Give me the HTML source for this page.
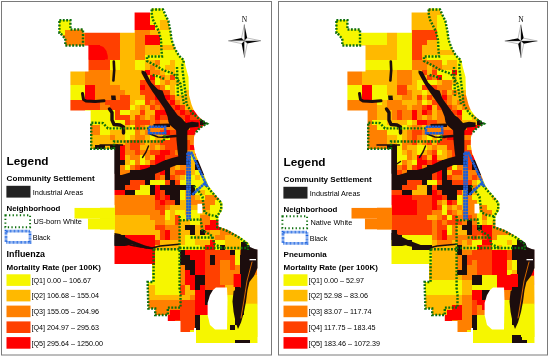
<!DOCTYPE html>
<html><head><meta charset="utf-8"><title>Influenza and Pneumonia Mortality Maps</title>
<style>html,body{margin:0;padding:0;background:#fff;width:550px;height:356px;overflow:hidden}svg{display:block}</style>
</head><body>
<svg width="550" height="356" viewBox="0 0 550 356">
<rect x="0" y="0" width="550" height="356" fill="#fff"/>
<rect x="1.5" y="1.5" width="270" height="353.5" fill="none" stroke="#7a7a7a" stroke-width="1"/>
<rect x="278.5" y="1.5" width="269" height="353.5" fill="none" stroke="#7a7a7a" stroke-width="1"/>
<defs><filter id="bl" x="-5%" y="-5%" width="110%" height="110%"><feGaussianBlur stdDeviation="0.4"/></filter></defs>
<g filter="url(#bl)">
<defs><clipPath id="cl"><polygon points="59.0,20.0 70.5,20.0 70.5,29.5 83.0,29.5 83.0,32.8 134.6,32.8 134.6,12.6 150.6,12.6 151.7,8.6 162.0,8.6 165.3,14.7 168.4,21.0 170.5,31.6 172.3,40.0 175.0,48.4 179.0,55.8 184.5,60.0 185.5,66.0 188.5,77.0 189.0,95.0 191.5,104.5 193.7,110.0 198.8,117.0 207.0,123.6 196.0,131.0 194.0,137.0 193.8,145.0 195.0,152.7 208.2,185.0 212.5,191.5 222.4,202.7 222.4,209.8 218.4,216.6 218.4,226.4 228.5,230.2 240.3,237.0 248.5,243.0 250.0,247.0 257.0,250.0 257.5,343.0 196.0,343.0 196.0,328.0 194.0,328.0 194.0,332.0 180.5,332.0 180.5,321.0 167.8,321.0 167.8,315.0 155.2,315.0 155.2,308.5 148.4,308.5 148.4,295.0 147.6,282.0 152.0,282.0 152.0,264.0 114.5,264.0 114.5,229.6 87.8,229.6 87.8,218.7 74.3,218.7 74.3,207.7 114.5,207.7 114.5,149.0 90.6,149.0 90.6,110.6 70.4,110.6 70.4,71.4 88.5,71.4 88.5,45.5 65.3,45.5 65.3,38.8 60.2,32.9 59.0,32.9"/></clipPath><clipPath id="cr"><polygon points="59.0,20.0 70.5,20.0 70.5,29.5 83.0,29.5 83.0,32.8 134.6,32.8 134.6,12.6 150.6,12.6 151.7,8.6 162.0,8.6 165.3,14.7 168.4,21.0 170.5,31.6 172.3,40.0 175.0,48.4 179.0,55.8 184.5,60.0 185.5,66.0 188.5,77.0 189.0,95.0 191.5,104.5 193.7,110.0 198.8,117.0 207.0,123.6 196.0,131.0 194.0,137.0 193.8,145.0 195.0,152.7 208.2,185.0 212.5,191.5 222.4,202.7 222.4,209.8 218.4,216.6 218.4,226.4 228.5,230.2 240.3,237.0 248.5,243.0 250.0,247.0 257.0,250.0 257.5,343.0 196.0,343.0 196.0,328.0 194.0,328.0 194.0,332.0 180.5,332.0 180.5,321.0 167.8,321.0 167.8,315.0 155.2,315.0 155.2,308.5 148.4,308.5 148.4,295.0 147.6,282.0 152.0,282.0 152.0,264.0 114.5,264.0 114.5,229.6 87.8,229.6 87.8,218.7 74.3,218.7 74.3,207.7 114.5,207.7 114.5,149.0 90.6,149.0 90.6,110.6 70.4,110.6 70.4,71.4 88.5,71.4 88.5,45.5 65.3,45.5 65.3,38.8 60.2,32.9 59.0,32.9" transform="translate(277,0)"/></clipPath></defs>
<g clip-path="url(#cl)">
<g shape-rendering="crispEdges">
<rect x="135" y="0" width="15" height="5" fill="#ff0000"/>
<rect x="150" y="0" width="20" height="5" fill="#f6f600"/>
<rect x="130" y="5" width="20" height="5" fill="#ff0000"/>
<rect x="150" y="5" width="25" height="5" fill="#f6f600"/>
<rect x="60" y="10" width="10" height="5" fill="#f6f600"/>
<rect x="125" y="10" width="25" height="5" fill="#ff0000"/>
<rect x="150" y="10" width="25" height="5" fill="#f6f600"/>
<rect x="55" y="15" width="20" height="5" fill="#f6f600"/>
<rect x="125" y="15" width="25" height="5" fill="#ff0000"/>
<rect x="150" y="15" width="30" height="5" fill="#f6f600"/>
<rect x="50" y="20" width="30" height="5" fill="#f6f600"/>
<rect x="80" y="20" width="5" height="5" fill="#ff8000"/>
<rect x="85" y="20" width="35" height="5" fill="#ff4000"/>
<rect x="120" y="20" width="5" height="5" fill="#ffb900"/>
<rect x="125" y="20" width="25" height="5" fill="#ff0000"/>
<rect x="150" y="20" width="10" height="5" fill="#f6f600"/>
<rect x="160" y="20" width="20" height="5" fill="#ffb900"/>
<rect x="50" y="25" width="25" height="5" fill="#f6f600"/>
<rect x="75" y="25" width="10" height="5" fill="#ff8000"/>
<rect x="85" y="25" width="35" height="5" fill="#ff4000"/>
<rect x="120" y="25" width="10" height="5" fill="#ffb900"/>
<rect x="130" y="25" width="25" height="5" fill="#ff0000"/>
<rect x="155" y="25" width="5" height="5" fill="#f6f600"/>
<rect x="160" y="25" width="20" height="5" fill="#ffb900"/>
<rect x="50" y="30" width="15" height="5" fill="#f6f600"/>
<rect x="65" y="30" width="20" height="5" fill="#ff8000"/>
<rect x="85" y="30" width="35" height="5" fill="#ff4000"/>
<rect x="120" y="30" width="15" height="5" fill="#ffb900"/>
<rect x="135" y="30" width="15" height="5" fill="#ff8000"/>
<rect x="150" y="30" width="10" height="5" fill="#ffb900"/>
<rect x="160" y="30" width="20" height="5" fill="#f6f600"/>
<rect x="55" y="35" width="30" height="5" fill="#ff8000"/>
<rect x="85" y="35" width="35" height="5" fill="#ff4000"/>
<rect x="120" y="35" width="15" height="5" fill="#ffb900"/>
<rect x="135" y="35" width="10" height="5" fill="#ff8000"/>
<rect x="145" y="35" width="15" height="5" fill="#ff0000"/>
<rect x="160" y="35" width="20" height="5" fill="#f6f600"/>
<rect x="55" y="40" width="30" height="5" fill="#ff8000"/>
<rect x="85" y="40" width="35" height="5" fill="#ff4000"/>
<rect x="120" y="40" width="15" height="5" fill="#ffb900"/>
<rect x="135" y="40" width="10" height="5" fill="#ff8000"/>
<rect x="145" y="40" width="15" height="5" fill="#ff0000"/>
<rect x="160" y="40" width="25" height="5" fill="#f6f600"/>
<rect x="60" y="45" width="25" height="5" fill="#ff8000"/>
<rect x="85" y="45" width="15" height="5" fill="#ff0000"/>
<rect x="100" y="45" width="20" height="5" fill="#ff4000"/>
<rect x="120" y="45" width="15" height="5" fill="#ffb900"/>
<rect x="135" y="45" width="10" height="5" fill="#ff8000"/>
<rect x="145" y="45" width="40" height="5" fill="#ffb900"/>
<rect x="65" y="50" width="15" height="5" fill="#ff8000"/>
<rect x="80" y="50" width="25" height="5" fill="#ff0000"/>
<rect x="105" y="50" width="15" height="5" fill="#ff4000"/>
<rect x="120" y="50" width="15" height="5" fill="#ffb900"/>
<rect x="135" y="50" width="10" height="5" fill="#ff8000"/>
<rect x="145" y="50" width="15" height="5" fill="#ffb900"/>
<rect x="160" y="50" width="25" height="5" fill="#f6f600"/>
<rect x="80" y="55" width="25" height="5" fill="#ff0000"/>
<rect x="105" y="55" width="15" height="5" fill="#ff4000"/>
<rect x="120" y="55" width="15" height="5" fill="#ffb900"/>
<rect x="135" y="55" width="10" height="5" fill="#ff8000"/>
<rect x="145" y="55" width="45" height="5" fill="#f6f600"/>
<rect x="70" y="60" width="10" height="5" fill="#ffb900"/>
<rect x="80" y="60" width="30" height="5" fill="#ff4000"/>
<rect x="110" y="60" width="10" height="5" fill="#f6f600"/>
<rect x="120" y="60" width="15" height="5" fill="#ffb900"/>
<rect x="135" y="60" width="10" height="5" fill="#f6f600"/>
<rect x="145" y="60" width="10" height="5" fill="#ffb900"/>
<rect x="155" y="60" width="5" height="5" fill="#ff8000"/>
<rect x="160" y="60" width="10" height="5" fill="#f6f600"/>
<rect x="170" y="60" width="5" height="5" fill="#ffb900"/>
<rect x="175" y="60" width="20" height="5" fill="#f6f600"/>
<rect x="65" y="65" width="20" height="5" fill="#ffb900"/>
<rect x="85" y="65" width="25" height="5" fill="#ff4000"/>
<rect x="110" y="65" width="10" height="5" fill="#f6f600"/>
<rect x="120" y="65" width="15" height="5" fill="#ffb900"/>
<rect x="135" y="65" width="10" height="5" fill="#f6f600"/>
<rect x="145" y="65" width="5" height="5" fill="#ffb900"/>
<rect x="150" y="65" width="5" height="5" fill="#ff8000"/>
<rect x="155" y="65" width="5" height="5" fill="#ffb900"/>
<rect x="160" y="65" width="5" height="5" fill="#f6f600"/>
<rect x="165" y="65" width="10" height="5" fill="#ffb900"/>
<rect x="175" y="65" width="20" height="5" fill="#f6f600"/>
<rect x="60" y="70" width="25" height="5" fill="#ffb900"/>
<rect x="85" y="70" width="25" height="5" fill="#ff8000"/>
<rect x="110" y="70" width="35" height="5" fill="#ffb900"/>
<rect x="145" y="70" width="5" height="5" fill="#ff0000"/>
<rect x="150" y="70" width="10" height="5" fill="#ff8000"/>
<rect x="160" y="70" width="5" height="5" fill="#ffb900"/>
<rect x="165" y="70" width="5" height="5" fill="#f6f600"/>
<rect x="170" y="70" width="5" height="5" fill="#ffb900"/>
<rect x="175" y="70" width="25" height="5" fill="#f6f600"/>
<rect x="60" y="75" width="25" height="5" fill="#ffb900"/>
<rect x="85" y="75" width="25" height="5" fill="#ff8000"/>
<rect x="110" y="75" width="40" height="5" fill="#ffb900"/>
<rect x="150" y="75" width="5" height="5" fill="#ff0000"/>
<rect x="155" y="75" width="5" height="5" fill="#f6f600"/>
<rect x="160" y="75" width="5" height="5" fill="#ff8000"/>
<rect x="165" y="75" width="5" height="5" fill="#ffb900"/>
<rect x="170" y="75" width="5" height="5" fill="#ff4000"/>
<rect x="175" y="75" width="20" height="5" fill="#f6f600"/>
<rect x="60" y="80" width="25" height="5" fill="#ffb900"/>
<rect x="85" y="80" width="25" height="5" fill="#ff8000"/>
<rect x="110" y="80" width="30" height="5" fill="#ffb900"/>
<rect x="140" y="80" width="15" height="5" fill="#ff4000"/>
<rect x="155" y="80" width="5" height="5" fill="#f6f600"/>
<rect x="160" y="80" width="5" height="5" fill="#ffb900"/>
<rect x="165" y="80" width="5" height="5" fill="#ff8000"/>
<rect x="170" y="80" width="10" height="5" fill="#ffb900"/>
<rect x="180" y="80" width="20" height="5" fill="#f6f600"/>
<rect x="60" y="85" width="25" height="5" fill="#f6f600"/>
<rect x="85" y="85" width="10" height="5" fill="#ff0000"/>
<rect x="95" y="85" width="25" height="5" fill="#ff8000"/>
<rect x="120" y="85" width="20" height="5" fill="#ffb900"/>
<rect x="140" y="85" width="5" height="5" fill="#ff0000"/>
<rect x="145" y="85" width="15" height="5" fill="#ff4000"/>
<rect x="160" y="85" width="5" height="5" fill="#ff8000"/>
<rect x="165" y="85" width="5" height="5" fill="#f6f600"/>
<rect x="170" y="85" width="5" height="5" fill="#ffb900"/>
<rect x="175" y="85" width="25" height="5" fill="#f6f600"/>
<rect x="60" y="90" width="25" height="5" fill="#f6f600"/>
<rect x="85" y="90" width="10" height="5" fill="#ff0000"/>
<rect x="95" y="90" width="30" height="5" fill="#ff8000"/>
<rect x="125" y="90" width="15" height="5" fill="#ffb900"/>
<rect x="140" y="90" width="30" height="5" fill="#ff4000"/>
<rect x="170" y="90" width="5" height="5" fill="#ffb900"/>
<rect x="175" y="90" width="10" height="5" fill="#f6f600"/>
<rect x="185" y="90" width="15" height="5" fill="#ffb900"/>
<rect x="60" y="95" width="25" height="5" fill="#f6f600"/>
<rect x="85" y="95" width="10" height="5" fill="#ff0000"/>
<rect x="95" y="95" width="25" height="5" fill="#ff8000"/>
<rect x="120" y="95" width="10" height="5" fill="#ff4000"/>
<rect x="130" y="95" width="15" height="5" fill="#ffb900"/>
<rect x="145" y="95" width="10" height="5" fill="#ff4000"/>
<rect x="155" y="95" width="15" height="5" fill="#ff0000"/>
<rect x="170" y="95" width="5" height="5" fill="#ff4000"/>
<rect x="175" y="95" width="30" height="5" fill="#ffb900"/>
<rect x="60" y="100" width="40" height="5" fill="#ff4000"/>
<rect x="100" y="100" width="5" height="5" fill="#ff8000"/>
<rect x="105" y="100" width="25" height="5" fill="#ff4000"/>
<rect x="130" y="100" width="5" height="5" fill="#ffb900"/>
<rect x="135" y="100" width="10" height="5" fill="#f6f600"/>
<rect x="145" y="100" width="5" height="5" fill="#ff4000"/>
<rect x="150" y="100" width="5" height="5" fill="#ff8000"/>
<rect x="155" y="100" width="15" height="5" fill="#ff4000"/>
<rect x="170" y="100" width="5" height="5" fill="#ff0000"/>
<rect x="175" y="100" width="5" height="5" fill="#ff8000"/>
<rect x="180" y="100" width="25" height="5" fill="#ffb900"/>
<rect x="60" y="105" width="40" height="5" fill="#ff4000"/>
<rect x="100" y="105" width="10" height="5" fill="#ff8000"/>
<rect x="110" y="105" width="20" height="5" fill="#ff4000"/>
<rect x="130" y="105" width="5" height="5" fill="#f6f600"/>
<rect x="135" y="105" width="5" height="5" fill="#ffb900"/>
<rect x="140" y="105" width="5" height="5" fill="#ff8000"/>
<rect x="145" y="105" width="5" height="5" fill="#ffb900"/>
<rect x="150" y="105" width="5" height="5" fill="#ff4000"/>
<rect x="155" y="105" width="5" height="5" fill="#ff8000"/>
<rect x="160" y="105" width="15" height="5" fill="#ff4000"/>
<rect x="175" y="105" width="5" height="5" fill="#ff0000"/>
<rect x="180" y="105" width="5" height="5" fill="#ff4000"/>
<rect x="185" y="105" width="15" height="5" fill="#ffb900"/>
<rect x="65" y="110" width="20" height="5" fill="#ff4000"/>
<rect x="85" y="110" width="30" height="5" fill="#f6f600"/>
<rect x="115" y="110" width="5" height="5" fill="#ff4000"/>
<rect x="120" y="110" width="10" height="5" fill="#f6f600"/>
<rect x="130" y="110" width="10" height="5" fill="#ffb900"/>
<rect x="140" y="110" width="5" height="5" fill="#ff4000"/>
<rect x="145" y="110" width="10" height="5" fill="#ffb900"/>
<rect x="155" y="110" width="20" height="5" fill="#ff0000"/>
<rect x="175" y="110" width="5" height="5" fill="#ff4000"/>
<rect x="180" y="110" width="5" height="5" fill="#ff0000"/>
<rect x="185" y="110" width="5" height="5" fill="#ff4000"/>
<rect x="190" y="110" width="15" height="5" fill="#ff0000"/>
<rect x="70" y="115" width="10" height="5" fill="#ff4000"/>
<rect x="80" y="115" width="35" height="5" fill="#f6f600"/>
<rect x="115" y="115" width="15" height="5" fill="#ff4000"/>
<rect x="130" y="115" width="5" height="5" fill="#ffb900"/>
<rect x="135" y="115" width="5" height="5" fill="#ff4000"/>
<rect x="140" y="115" width="5" height="5" fill="#ff8000"/>
<rect x="145" y="115" width="5" height="5" fill="#ffb900"/>
<rect x="150" y="115" width="5" height="5" fill="#ff8000"/>
<rect x="155" y="115" width="5" height="5" fill="#ff0000"/>
<rect x="160" y="115" width="25" height="5" fill="#ff4000"/>
<rect x="185" y="115" width="5" height="5" fill="#ff0000"/>
<rect x="190" y="115" width="20" height="5" fill="#ff4000"/>
<rect x="80" y="120" width="45" height="5" fill="#f6f600"/>
<rect x="125" y="120" width="5" height="5" fill="#ff4000"/>
<rect x="130" y="120" width="5" height="5" fill="#ff8000"/>
<rect x="135" y="120" width="15" height="5" fill="#ff4000"/>
<rect x="150" y="120" width="5" height="5" fill="#ff8000"/>
<rect x="155" y="120" width="5" height="5" fill="#ff4000"/>
<rect x="160" y="120" width="25" height="5" fill="#ff8000"/>
<rect x="185" y="120" width="15" height="5" fill="#ff0000"/>
<rect x="200" y="120" width="15" height="5" fill="#1e0a0a"/>
<rect x="80" y="125" width="20" height="5" fill="#ff8000"/>
<rect x="100" y="125" width="25" height="5" fill="#f6f600"/>
<rect x="125" y="125" width="5" height="5" fill="#ffb900"/>
<rect x="130" y="125" width="5" height="5" fill="#f6f600"/>
<rect x="135" y="125" width="5" height="5" fill="#ff4000"/>
<rect x="140" y="125" width="5" height="5" fill="#ff8000"/>
<rect x="145" y="125" width="5" height="5" fill="#ffb900"/>
<rect x="150" y="125" width="40" height="5" fill="#ff8000"/>
<rect x="190" y="125" width="25" height="5" fill="#ff0000"/>
<rect x="80" y="130" width="20" height="5" fill="#ff8000"/>
<rect x="100" y="130" width="10" height="5" fill="#f6f600"/>
<rect x="110" y="130" width="15" height="5" fill="#ffb900"/>
<rect x="125" y="130" width="10" height="5" fill="#f6f600"/>
<rect x="135" y="130" width="5" height="5" fill="#ff8000"/>
<rect x="140" y="130" width="5" height="5" fill="#ffb900"/>
<rect x="145" y="130" width="15" height="5" fill="#ff8000"/>
<rect x="160" y="130" width="5" height="5" fill="#ff4000"/>
<rect x="165" y="130" width="5" height="5" fill="#ff0000"/>
<rect x="170" y="130" width="15" height="5" fill="#ff4000"/>
<rect x="185" y="130" width="25" height="5" fill="#ff0000"/>
<rect x="80" y="135" width="30" height="5" fill="#ffb900"/>
<rect x="110" y="135" width="5" height="5" fill="#ff8000"/>
<rect x="115" y="135" width="10" height="5" fill="#ffb900"/>
<rect x="125" y="135" width="5" height="5" fill="#f6f600"/>
<rect x="130" y="135" width="5" height="5" fill="#ffb900"/>
<rect x="135" y="135" width="10" height="5" fill="#ff8000"/>
<rect x="145" y="135" width="5" height="5" fill="#ffb900"/>
<rect x="150" y="135" width="5" height="5" fill="#f6f600"/>
<rect x="155" y="135" width="10" height="5" fill="#ffb900"/>
<rect x="165" y="135" width="5" height="5" fill="#f6f600"/>
<rect x="170" y="135" width="15" height="5" fill="#ff4000"/>
<rect x="185" y="135" width="20" height="5" fill="#ff8000"/>
<rect x="80" y="140" width="45" height="5" fill="#ffb900"/>
<rect x="125" y="140" width="5" height="5" fill="#ff8000"/>
<rect x="130" y="140" width="10" height="5" fill="#ff4000"/>
<rect x="140" y="140" width="5" height="5" fill="#ff8000"/>
<rect x="145" y="140" width="5" height="5" fill="#ffb900"/>
<rect x="150" y="140" width="10" height="5" fill="#ff8000"/>
<rect x="160" y="140" width="30" height="5" fill="#ff4000"/>
<rect x="190" y="140" width="20" height="5" fill="#ff8000"/>
<rect x="80" y="145" width="15" height="5" fill="#ffb900"/>
<rect x="95" y="145" width="10" height="5" fill="#1e0a0a"/>
<rect x="105" y="145" width="5" height="5" fill="#ffb900"/>
<rect x="110" y="145" width="10" height="5" fill="#1e0a0a"/>
<rect x="120" y="145" width="5" height="5" fill="#ff0000"/>
<rect x="125" y="145" width="5" height="5" fill="#ff8000"/>
<rect x="130" y="145" width="10" height="5" fill="#ff4000"/>
<rect x="140" y="145" width="10" height="5" fill="#ffb900"/>
<rect x="150" y="145" width="5" height="5" fill="#ff8000"/>
<rect x="155" y="145" width="5" height="5" fill="#ffb900"/>
<rect x="160" y="145" width="5" height="5" fill="#ff8000"/>
<rect x="165" y="145" width="25" height="5" fill="#ff4000"/>
<rect x="190" y="145" width="20" height="5" fill="#ff0000"/>
<rect x="85" y="150" width="10" height="5" fill="#ffb900"/>
<rect x="95" y="150" width="25" height="5" fill="#1e0a0a"/>
<rect x="120" y="150" width="5" height="5" fill="#ff0000"/>
<rect x="125" y="150" width="10" height="5" fill="#ff8000"/>
<rect x="135" y="150" width="5" height="5" fill="#ff4000"/>
<rect x="140" y="150" width="10" height="5" fill="#ff8000"/>
<rect x="150" y="150" width="10" height="5" fill="#ff4000"/>
<rect x="160" y="150" width="10" height="5" fill="#ff0000"/>
<rect x="170" y="150" width="5" height="5" fill="#ff4000"/>
<rect x="175" y="150" width="15" height="5" fill="#ff8000"/>
<rect x="190" y="150" width="5" height="5" fill="#ffb900"/>
<rect x="195" y="150" width="15" height="5" fill="#ff0000"/>
<rect x="90" y="155" width="5" height="5" fill="#ffb900"/>
<rect x="95" y="155" width="5" height="5" fill="#1e0a0a"/>
<rect x="105" y="155" width="15" height="5" fill="#1e0a0a"/>
<rect x="120" y="155" width="5" height="5" fill="#ff0000"/>
<rect x="125" y="155" width="5" height="5" fill="#ffb900"/>
<rect x="130" y="155" width="10" height="5" fill="#ff8000"/>
<rect x="140" y="155" width="5" height="5" fill="#f6f600"/>
<rect x="145" y="155" width="5" height="5" fill="#ff8000"/>
<rect x="150" y="155" width="5" height="5" fill="#ffb900"/>
<rect x="155" y="155" width="10" height="5" fill="#ff0000"/>
<rect x="165" y="155" width="25" height="5" fill="#ff4000"/>
<rect x="190" y="155" width="5" height="5" fill="#f6f600"/>
<rect x="195" y="155" width="15" height="5" fill="#ffb900"/>
<rect x="105" y="160" width="20" height="5" fill="#1e0a0a"/>
<rect x="125" y="160" width="5" height="5" fill="#ffb900"/>
<rect x="130" y="160" width="5" height="5" fill="#f6f600"/>
<rect x="135" y="160" width="5" height="5" fill="#ff8000"/>
<rect x="140" y="160" width="5" height="5" fill="#f6f600"/>
<rect x="145" y="160" width="5" height="5" fill="#ffb900"/>
<rect x="150" y="160" width="5" height="5" fill="#ff4000"/>
<rect x="155" y="160" width="10" height="5" fill="#ff0000"/>
<rect x="165" y="160" width="25" height="5" fill="#1e0a0a"/>
<rect x="190" y="160" width="5" height="5" fill="#ffb900"/>
<rect x="195" y="160" width="15" height="5" fill="#1e0a0a"/>
<rect x="105" y="165" width="15" height="5" fill="#1e0a0a"/>
<rect x="120" y="165" width="5" height="5" fill="#ff8000"/>
<rect x="125" y="165" width="5" height="5" fill="#f6f600"/>
<rect x="130" y="165" width="5" height="5" fill="#ff8000"/>
<rect x="135" y="165" width="5" height="5" fill="#ff4000"/>
<rect x="140" y="165" width="10" height="5" fill="#ff0000"/>
<rect x="150" y="165" width="20" height="5" fill="#1e0a0a"/>
<rect x="170" y="165" width="5" height="5" fill="#ff8000"/>
<rect x="175" y="165" width="5" height="5" fill="#ffb900"/>
<rect x="180" y="165" width="10" height="5" fill="#ff8000"/>
<rect x="190" y="165" width="5" height="5" fill="#ffb900"/>
<rect x="195" y="165" width="20" height="5" fill="#1e0a0a"/>
<rect x="105" y="170" width="15" height="5" fill="#1e0a0a"/>
<rect x="120" y="170" width="10" height="5" fill="#ff8000"/>
<rect x="130" y="170" width="25" height="5" fill="#1e0a0a"/>
<rect x="155" y="170" width="5" height="5" fill="#ff4000"/>
<rect x="160" y="170" width="5" height="5" fill="#ff0000"/>
<rect x="165" y="170" width="5" height="5" fill="#1e0a0a"/>
<rect x="170" y="170" width="5" height="5" fill="#ff8000"/>
<rect x="175" y="170" width="10" height="5" fill="#ff4000"/>
<rect x="185" y="170" width="5" height="5" fill="#ff8000"/>
<rect x="190" y="170" width="5" height="5" fill="#ffb900"/>
<rect x="195" y="170" width="5" height="5" fill="#f6f600"/>
<rect x="200" y="170" width="15" height="5" fill="#1e0a0a"/>
<rect x="105" y="175" width="50" height="5" fill="#1e0a0a"/>
<rect x="155" y="175" width="5" height="5" fill="#ff4000"/>
<rect x="160" y="175" width="5" height="5" fill="#ff8000"/>
<rect x="165" y="175" width="5" height="5" fill="#1e0a0a"/>
<rect x="170" y="175" width="5" height="5" fill="#ff4000"/>
<rect x="175" y="175" width="5" height="5" fill="#ff8000"/>
<rect x="180" y="175" width="5" height="5" fill="#ffb900"/>
<rect x="185" y="175" width="10" height="5" fill="#f6f600"/>
<rect x="195" y="175" width="5" height="5" fill="#ffb900"/>
<rect x="200" y="175" width="15" height="5" fill="#f6f600"/>
<rect x="105" y="180" width="25" height="5" fill="#1e0a0a"/>
<rect x="130" y="180" width="15" height="5" fill="#ff4000"/>
<rect x="145" y="180" width="5" height="5" fill="#1e0a0a"/>
<rect x="150" y="180" width="15" height="5" fill="#f6f600"/>
<rect x="165" y="180" width="5" height="5" fill="#ff4000"/>
<rect x="170" y="180" width="5" height="5" fill="#1e0a0a"/>
<rect x="175" y="180" width="5" height="5" fill="#ff4000"/>
<rect x="180" y="180" width="35" height="5" fill="#f6f600"/>
<rect x="105" y="185" width="20" height="5" fill="#1e0a0a"/>
<rect x="125" y="185" width="15" height="5" fill="#ff4000"/>
<rect x="140" y="185" width="10" height="5" fill="#f6f600"/>
<rect x="150" y="185" width="5" height="5" fill="#1e0a0a"/>
<rect x="155" y="185" width="5" height="5" fill="#ff0000"/>
<rect x="160" y="185" width="35" height="5" fill="#1e0a0a"/>
<rect x="195" y="185" width="25" height="5" fill="#f6f600"/>
<rect x="105" y="190" width="20" height="5" fill="#ff0000"/>
<rect x="125" y="190" width="10" height="5" fill="#1e0a0a"/>
<rect x="135" y="190" width="15" height="5" fill="#f6f600"/>
<rect x="150" y="190" width="5" height="5" fill="#1e0a0a"/>
<rect x="155" y="190" width="5" height="5" fill="#ff0000"/>
<rect x="160" y="190" width="5" height="5" fill="#ff4000"/>
<rect x="165" y="190" width="15" height="5" fill="#1e0a0a"/>
<rect x="180" y="190" width="5" height="5" fill="#f6f600"/>
<rect x="185" y="190" width="5" height="5" fill="#ffb900"/>
<rect x="190" y="190" width="5" height="5" fill="#1e0a0a"/>
<rect x="195" y="190" width="5" height="5" fill="#f6f600"/>
<rect x="200" y="190" width="5" height="5" fill="#ffb900"/>
<rect x="205" y="190" width="15" height="5" fill="#f6f600"/>
<rect x="100" y="195" width="5" height="5" fill="#f6f600"/>
<rect x="105" y="195" width="50" height="5" fill="#ff8000"/>
<rect x="155" y="195" width="5" height="5" fill="#ff0000"/>
<rect x="160" y="195" width="5" height="5" fill="#ff4000"/>
<rect x="165" y="195" width="5" height="5" fill="#ff0000"/>
<rect x="170" y="195" width="10" height="5" fill="#1e0a0a"/>
<rect x="180" y="195" width="5" height="5" fill="#f6f600"/>
<rect x="185" y="195" width="5" height="5" fill="#ffb900"/>
<rect x="190" y="195" width="5" height="5" fill="#ff8000"/>
<rect x="195" y="195" width="5" height="5" fill="#ffb900"/>
<rect x="200" y="195" width="5" height="5" fill="#f6f600"/>
<rect x="205" y="195" width="20" height="5" fill="#ff8000"/>
<rect x="100" y="200" width="10" height="5" fill="#f6f600"/>
<rect x="110" y="200" width="45" height="5" fill="#ff8000"/>
<rect x="155" y="200" width="5" height="5" fill="#ff4000"/>
<rect x="160" y="200" width="5" height="5" fill="#ff0000"/>
<rect x="165" y="200" width="10" height="5" fill="#ff4000"/>
<rect x="175" y="200" width="5" height="5" fill="#1e0a0a"/>
<rect x="180" y="200" width="10" height="5" fill="#ffb900"/>
<rect x="190" y="200" width="25" height="5" fill="#ff8000"/>
<rect x="215" y="200" width="15" height="5" fill="#f6f600"/>
<rect x="100" y="205" width="15" height="5" fill="#f6f600"/>
<rect x="115" y="205" width="40" height="5" fill="#ff8000"/>
<rect x="155" y="205" width="10" height="5" fill="#ff4000"/>
<rect x="165" y="205" width="5" height="5" fill="#ff8000"/>
<rect x="170" y="205" width="30" height="5" fill="#ffb900"/>
<rect x="200" y="205" width="10" height="5" fill="#ff8000"/>
<rect x="210" y="205" width="20" height="5" fill="#f6f600"/>
<rect x="100" y="210" width="15" height="5" fill="#f6f600"/>
<rect x="115" y="210" width="45" height="5" fill="#ff8000"/>
<rect x="160" y="210" width="5" height="5" fill="#ff4000"/>
<rect x="165" y="210" width="5" height="5" fill="#f6f600"/>
<rect x="170" y="210" width="5" height="5" fill="#ffb900"/>
<rect x="175" y="210" width="10" height="5" fill="#f6f600"/>
<rect x="185" y="210" width="5" height="5" fill="#ffb900"/>
<rect x="190" y="210" width="10" height="5" fill="#f6f600"/>
<rect x="200" y="210" width="10" height="5" fill="#ffb900"/>
<rect x="210" y="210" width="15" height="5" fill="#f6f600"/>
<rect x="100" y="215" width="15" height="5" fill="#f6f600"/>
<rect x="115" y="215" width="35" height="5" fill="#ffb900"/>
<rect x="150" y="215" width="15" height="5" fill="#ff8000"/>
<rect x="165" y="215" width="5" height="5" fill="#f6f600"/>
<rect x="170" y="215" width="5" height="5" fill="#ffb900"/>
<rect x="175" y="215" width="5" height="5" fill="#ff4000"/>
<rect x="180" y="215" width="20" height="5" fill="#f6f600"/>
<rect x="200" y="215" width="10" height="5" fill="#ff8000"/>
<rect x="210" y="215" width="15" height="5" fill="#f6f600"/>
<rect x="100" y="220" width="15" height="5" fill="#f6f600"/>
<rect x="115" y="220" width="40" height="5" fill="#ffb900"/>
<rect x="155" y="220" width="10" height="5" fill="#ff8000"/>
<rect x="165" y="220" width="10" height="5" fill="#ffb900"/>
<rect x="175" y="220" width="5" height="5" fill="#ff4000"/>
<rect x="180" y="220" width="10" height="5" fill="#ffb900"/>
<rect x="190" y="220" width="10" height="5" fill="#f6f600"/>
<rect x="200" y="220" width="10" height="5" fill="#ff8000"/>
<rect x="210" y="220" width="15" height="5" fill="#ff0000"/>
<rect x="100" y="225" width="15" height="5" fill="#f6f600"/>
<rect x="115" y="225" width="40" height="5" fill="#ffb900"/>
<rect x="155" y="225" width="10" height="5" fill="#ff4000"/>
<rect x="165" y="225" width="15" height="5" fill="#ff8000"/>
<rect x="180" y="225" width="5" height="5" fill="#ffb900"/>
<rect x="185" y="225" width="10" height="5" fill="#1e0a0a"/>
<rect x="195" y="225" width="5" height="5" fill="#ffb900"/>
<rect x="200" y="225" width="5" height="5" fill="#ff8000"/>
<rect x="205" y="225" width="15" height="5" fill="#ff0000"/>
<rect x="220" y="225" width="10" height="5" fill="#ff8000"/>
<rect x="100" y="230" width="10" height="5" fill="#f6f600"/>
<rect x="110" y="230" width="50" height="5" fill="#ffb900"/>
<rect x="160" y="230" width="5" height="5" fill="#ff4000"/>
<rect x="165" y="230" width="5" height="5" fill="#ff0000"/>
<rect x="170" y="230" width="10" height="5" fill="#ff8000"/>
<rect x="180" y="230" width="10" height="5" fill="#ffb900"/>
<rect x="190" y="230" width="5" height="5" fill="#1e0a0a"/>
<rect x="195" y="230" width="5" height="5" fill="#ffb900"/>
<rect x="200" y="230" width="5" height="5" fill="#1e0a0a"/>
<rect x="205" y="230" width="5" height="5" fill="#ff8000"/>
<rect x="210" y="230" width="10" height="5" fill="#ffb900"/>
<rect x="220" y="230" width="15" height="5" fill="#ff8000"/>
<rect x="235" y="230" width="5" height="5" fill="#ffb900"/>
<rect x="240" y="230" width="5" height="5" fill="#f6f600"/>
<rect x="100" y="235" width="5" height="5" fill="#f6f600"/>
<rect x="105" y="235" width="20" height="5" fill="#1e0a0a"/>
<rect x="125" y="235" width="30" height="5" fill="#ff0000"/>
<rect x="155" y="235" width="5" height="5" fill="#ffb900"/>
<rect x="160" y="235" width="5" height="5" fill="#ff4000"/>
<rect x="165" y="235" width="5" height="5" fill="#ff0000"/>
<rect x="170" y="235" width="10" height="5" fill="#ff8000"/>
<rect x="180" y="235" width="5" height="5" fill="#ffb900"/>
<rect x="185" y="235" width="10" height="5" fill="#f6f600"/>
<rect x="195" y="235" width="5" height="5" fill="#ffb900"/>
<rect x="200" y="235" width="10" height="5" fill="#f6f600"/>
<rect x="210" y="235" width="5" height="5" fill="#ffb900"/>
<rect x="215" y="235" width="10" height="5" fill="#ff8000"/>
<rect x="225" y="235" width="15" height="5" fill="#ffb900"/>
<rect x="240" y="235" width="10" height="5" fill="#f6f600"/>
<rect x="105" y="240" width="20" height="5" fill="#1e0a0a"/>
<rect x="125" y="240" width="30" height="5" fill="#ff0000"/>
<rect x="155" y="240" width="5" height="5" fill="#ff4000"/>
<rect x="160" y="240" width="25" height="5" fill="#ffb900"/>
<rect x="185" y="240" width="10" height="5" fill="#f6f600"/>
<rect x="195" y="240" width="15" height="5" fill="#ffb900"/>
<rect x="210" y="240" width="5" height="5" fill="#ff0000"/>
<rect x="215" y="240" width="10" height="5" fill="#f6f600"/>
<rect x="225" y="240" width="15" height="5" fill="#ffb900"/>
<rect x="240" y="240" width="15" height="5" fill="#f6f600"/>
<rect x="105" y="245" width="50" height="5" fill="#ff0000"/>
<rect x="155" y="245" width="25" height="5" fill="#ffb900"/>
<rect x="180" y="245" width="20" height="5" fill="#f6f600"/>
<rect x="200" y="245" width="5" height="5" fill="#ffb900"/>
<rect x="205" y="245" width="10" height="5" fill="#ff0000"/>
<rect x="215" y="245" width="5" height="5" fill="#f6f600"/>
<rect x="220" y="245" width="5" height="5" fill="#1e0a0a"/>
<rect x="225" y="245" width="15" height="5" fill="#ffb900"/>
<rect x="240" y="245" width="5" height="5" fill="#f6f600"/>
<rect x="245" y="245" width="15" height="5" fill="#1e0a0a"/>
<rect x="105" y="250" width="50" height="5" fill="#ff0000"/>
<rect x="155" y="250" width="25" height="5" fill="#f6f600"/>
<rect x="180" y="250" width="5" height="5" fill="#1e0a0a"/>
<rect x="185" y="250" width="20" height="5" fill="#ff0000"/>
<rect x="205" y="250" width="25" height="5" fill="#ff4000"/>
<rect x="230" y="250" width="5" height="5" fill="#1e0a0a"/>
<rect x="235" y="250" width="5" height="5" fill="#f6f600"/>
<rect x="240" y="250" width="5" height="5" fill="#ff8000"/>
<rect x="245" y="250" width="5" height="5" fill="#1e0a0a"/>
<rect x="250" y="250" width="10" height="5" fill="#ff8000"/>
<rect x="105" y="255" width="50" height="5" fill="#ff0000"/>
<rect x="155" y="255" width="25" height="5" fill="#f6f600"/>
<rect x="180" y="255" width="10" height="5" fill="#1e0a0a"/>
<rect x="190" y="255" width="15" height="5" fill="#ff0000"/>
<rect x="205" y="255" width="5" height="5" fill="#ff4000"/>
<rect x="210" y="255" width="5" height="5" fill="#1e0a0a"/>
<rect x="215" y="255" width="20" height="5" fill="#ff4000"/>
<rect x="235" y="255" width="5" height="5" fill="#f6f600"/>
<rect x="240" y="255" width="10" height="5" fill="#1e0a0a"/>
<rect x="250" y="255" width="10" height="5" fill="#ff8000"/>
<rect x="105" y="260" width="50" height="5" fill="#ff0000"/>
<rect x="155" y="260" width="25" height="5" fill="#f6f600"/>
<rect x="180" y="260" width="15" height="5" fill="#1e0a0a"/>
<rect x="195" y="260" width="10" height="5" fill="#ff0000"/>
<rect x="205" y="260" width="5" height="5" fill="#ff4000"/>
<rect x="210" y="260" width="5" height="5" fill="#1e0a0a"/>
<rect x="215" y="260" width="5" height="5" fill="#ff4000"/>
<rect x="220" y="260" width="10" height="5" fill="#ff8000"/>
<rect x="230" y="260" width="5" height="5" fill="#ff4000"/>
<rect x="235" y="260" width="5" height="5" fill="#f6f600"/>
<rect x="240" y="260" width="10" height="5" fill="#1e0a0a"/>
<rect x="250" y="260" width="10" height="5" fill="#ff8000"/>
<rect x="110" y="265" width="40" height="5" fill="#ff0000"/>
<rect x="150" y="265" width="30" height="5" fill="#f6f600"/>
<rect x="180" y="265" width="5" height="5" fill="#ff8000"/>
<rect x="185" y="265" width="10" height="5" fill="#1e0a0a"/>
<rect x="195" y="265" width="10" height="5" fill="#ff0000"/>
<rect x="205" y="265" width="15" height="5" fill="#ff4000"/>
<rect x="220" y="265" width="10" height="5" fill="#ff8000"/>
<rect x="230" y="265" width="5" height="5" fill="#ff4000"/>
<rect x="235" y="265" width="5" height="5" fill="#ff8000"/>
<rect x="240" y="265" width="10" height="5" fill="#1e0a0a"/>
<rect x="250" y="265" width="10" height="5" fill="#ff8000"/>
<rect x="130" y="270" width="15" height="5" fill="#ff0000"/>
<rect x="145" y="270" width="35" height="5" fill="#f6f600"/>
<rect x="180" y="270" width="5" height="5" fill="#ff8000"/>
<rect x="185" y="270" width="5" height="5" fill="#ff0000"/>
<rect x="190" y="270" width="5" height="5" fill="#1e0a0a"/>
<rect x="195" y="270" width="10" height="5" fill="#ff0000"/>
<rect x="205" y="270" width="15" height="5" fill="#ff4000"/>
<rect x="220" y="270" width="20" height="5" fill="#ff8000"/>
<rect x="240" y="270" width="10" height="5" fill="#1e0a0a"/>
<rect x="250" y="270" width="10" height="5" fill="#ff8000"/>
<rect x="145" y="275" width="35" height="5" fill="#f6f600"/>
<rect x="180" y="275" width="5" height="5" fill="#ff8000"/>
<rect x="185" y="275" width="10" height="5" fill="#ff0000"/>
<rect x="195" y="275" width="10" height="5" fill="#1e0a0a"/>
<rect x="205" y="275" width="15" height="5" fill="#ff4000"/>
<rect x="220" y="275" width="15" height="5" fill="#ff8000"/>
<rect x="235" y="275" width="15" height="5" fill="#1e0a0a"/>
<rect x="250" y="275" width="10" height="5" fill="#ffb900"/>
<rect x="145" y="280" width="35" height="5" fill="#f6f600"/>
<rect x="180" y="280" width="5" height="5" fill="#ff8000"/>
<rect x="185" y="280" width="10" height="5" fill="#ff0000"/>
<rect x="195" y="280" width="10" height="5" fill="#1e0a0a"/>
<rect x="205" y="280" width="15" height="5" fill="#ff4000"/>
<rect x="220" y="280" width="15" height="5" fill="#ff8000"/>
<rect x="235" y="280" width="5" height="5" fill="#1e0a0a"/>
<rect x="240" y="280" width="5" height="5" fill="#ff8000"/>
<rect x="245" y="280" width="5" height="5" fill="#1e0a0a"/>
<rect x="250" y="280" width="10" height="5" fill="#ffb900"/>
<rect x="140" y="285" width="15" height="5" fill="#ffb900"/>
<rect x="155" y="285" width="25" height="5" fill="#f6f600"/>
<rect x="180" y="285" width="5" height="5" fill="#ff4000"/>
<rect x="185" y="285" width="5" height="5" fill="#ffb900"/>
<rect x="190" y="285" width="5" height="5" fill="#ff0000"/>
<rect x="195" y="285" width="5" height="5" fill="#1e0a0a"/>
<rect x="200" y="285" width="5" height="5" fill="#ff0000"/>
<rect x="205" y="285" width="20" height="5" fill="#ff4000"/>
<rect x="225" y="285" width="10" height="5" fill="#ffb900"/>
<rect x="235" y="285" width="5" height="5" fill="#1e0a0a"/>
<rect x="240" y="285" width="5" height="5" fill="#ffb900"/>
<rect x="245" y="285" width="5" height="5" fill="#1e0a0a"/>
<rect x="250" y="285" width="10" height="5" fill="#ffb900"/>
<rect x="135" y="290" width="20" height="5" fill="#ffb900"/>
<rect x="155" y="290" width="25" height="5" fill="#f6f600"/>
<rect x="180" y="290" width="5" height="5" fill="#ff4000"/>
<rect x="185" y="290" width="10" height="5" fill="#ffb900"/>
<rect x="195" y="290" width="10" height="5" fill="#ff0000"/>
<rect x="205" y="290" width="15" height="5" fill="#1e0a0a"/>
<rect x="220" y="290" width="15" height="5" fill="#ffb900"/>
<rect x="235" y="290" width="10" height="5" fill="#1e0a0a"/>
<rect x="245" y="290" width="15" height="5" fill="#ffb900"/>
<rect x="135" y="295" width="55" height="5" fill="#ffb900"/>
<rect x="190" y="295" width="5" height="5" fill="#ff8000"/>
<rect x="195" y="295" width="10" height="5" fill="#ff0000"/>
<rect x="205" y="295" width="15" height="5" fill="#1e0a0a"/>
<rect x="220" y="295" width="15" height="5" fill="#f6f600"/>
<rect x="235" y="295" width="10" height="5" fill="#1e0a0a"/>
<rect x="245" y="295" width="15" height="5" fill="#ffb900"/>
<rect x="140" y="300" width="40" height="5" fill="#ff8000"/>
<rect x="180" y="300" width="15" height="5" fill="#ff4000"/>
<rect x="195" y="300" width="10" height="5" fill="#ff0000"/>
<rect x="205" y="300" width="15" height="5" fill="#1e0a0a"/>
<rect x="220" y="300" width="15" height="5" fill="#f6f600"/>
<rect x="235" y="300" width="10" height="5" fill="#1e0a0a"/>
<rect x="245" y="300" width="15" height="5" fill="#ffb900"/>
<rect x="140" y="305" width="40" height="5" fill="#ff8000"/>
<rect x="180" y="305" width="15" height="5" fill="#ff4000"/>
<rect x="195" y="305" width="25" height="5" fill="#ff0000"/>
<rect x="220" y="305" width="15" height="5" fill="#f6f600"/>
<rect x="235" y="305" width="10" height="5" fill="#1e0a0a"/>
<rect x="245" y="305" width="15" height="5" fill="#f6f600"/>
<rect x="140" y="310" width="30" height="5" fill="#ff8000"/>
<rect x="170" y="310" width="10" height="5" fill="#ff0000"/>
<rect x="180" y="310" width="15" height="5" fill="#ff4000"/>
<rect x="195" y="310" width="20" height="5" fill="#ff0000"/>
<rect x="215" y="310" width="20" height="5" fill="#f6f600"/>
<rect x="235" y="310" width="10" height="5" fill="#1e0a0a"/>
<rect x="245" y="310" width="15" height="5" fill="#f6f600"/>
<rect x="145" y="315" width="20" height="5" fill="#ff8000"/>
<rect x="165" y="315" width="15" height="5" fill="#ff0000"/>
<rect x="180" y="315" width="15" height="5" fill="#ff4000"/>
<rect x="195" y="315" width="5" height="5" fill="#1e0a0a"/>
<rect x="200" y="315" width="35" height="5" fill="#f6f600"/>
<rect x="235" y="315" width="5" height="5" fill="#1e0a0a"/>
<rect x="240" y="315" width="20" height="5" fill="#f6f600"/>
<rect x="155" y="320" width="10" height="5" fill="#ff8000"/>
<rect x="165" y="320" width="10" height="5" fill="#ff0000"/>
<rect x="175" y="320" width="20" height="5" fill="#ff4000"/>
<rect x="195" y="320" width="5" height="5" fill="#1e0a0a"/>
<rect x="200" y="320" width="35" height="5" fill="#f6f600"/>
<rect x="235" y="320" width="5" height="5" fill="#1e0a0a"/>
<rect x="240" y="320" width="20" height="5" fill="#f6f600"/>
<rect x="170" y="325" width="25" height="5" fill="#ff4000"/>
<rect x="195" y="325" width="5" height="5" fill="#1e0a0a"/>
<rect x="200" y="325" width="30" height="5" fill="#f6f600"/>
<rect x="230" y="325" width="5" height="5" fill="#1e0a0a"/>
<rect x="235" y="325" width="25" height="5" fill="#f6f600"/>
<rect x="175" y="330" width="15" height="5" fill="#ff4000"/>
<rect x="190" y="330" width="70" height="5" fill="#f6f600"/>
<rect x="180" y="335" width="5" height="5" fill="#ff4000"/>
<rect x="185" y="335" width="75" height="5" fill="#f6f600"/>
<rect x="185" y="340" width="50" height="5" fill="#f6f600"/>
<rect x="235" y="340" width="15" height="5" fill="#1e0a0a"/>
<rect x="250" y="340" width="10" height="5" fill="#f6f600"/>
<rect x="190" y="345" width="45" height="5" fill="#f6f600"/>
<rect x="235" y="345" width="15" height="5" fill="#1e0a0a"/>
<rect x="250" y="345" width="10" height="5" fill="#f6f600"/>
<rect x="195" y="350" width="5" height="5" fill="#f6f600"/>
</g>
<rect x="74.3" y="207.7" width="39.7" height="11.0" fill="#f6f600"/>
<rect x="87.8" y="218.7" width="26.2" height="10.9" fill="#f6f600"/>
<polygon points="88.5,45.3 99.0,45.3 103.5,47.0 106.5,51.0 107.8,56.0 107.8,59.6 88.5,59.6" fill="#ff0000"/>
<rect x="246.0" y="276.0" width="12.0" height="27.7" fill="#ffb900"/>
<rect x="244.0" y="303.7" width="14.0" height="33.3" fill="#f6f600"/>
<rect x="233.6" y="274.0" width="7.4" height="13.0" fill="#ff0000"/>
</g>
<g clip-path="url(#cr)">
<g shape-rendering="crispEdges">
<rect x="412" y="0" width="20" height="5" fill="#ffb900"/>
<rect x="432" y="0" width="15" height="5" fill="#f6f600"/>
<rect x="407" y="5" width="25" height="5" fill="#ffb900"/>
<rect x="432" y="5" width="20" height="5" fill="#f6f600"/>
<rect x="337" y="10" width="10" height="5" fill="#f6f600"/>
<rect x="402" y="10" width="50" height="5" fill="#ffb900"/>
<rect x="332" y="15" width="20" height="5" fill="#f6f600"/>
<rect x="402" y="15" width="35" height="5" fill="#ffb900"/>
<rect x="437" y="15" width="20" height="5" fill="#f6f600"/>
<rect x="327" y="20" width="60" height="5" fill="#f6f600"/>
<rect x="387" y="20" width="10" height="5" fill="#ffb900"/>
<rect x="397" y="20" width="5" height="5" fill="#f6f600"/>
<rect x="402" y="20" width="35" height="5" fill="#ffb900"/>
<rect x="437" y="20" width="20" height="5" fill="#f6f600"/>
<rect x="327" y="25" width="60" height="5" fill="#f6f600"/>
<rect x="387" y="25" width="10" height="5" fill="#ffb900"/>
<rect x="397" y="25" width="10" height="5" fill="#f6f600"/>
<rect x="407" y="25" width="30" height="5" fill="#ffb900"/>
<rect x="437" y="25" width="20" height="5" fill="#f6f600"/>
<rect x="327" y="30" width="60" height="5" fill="#f6f600"/>
<rect x="387" y="30" width="10" height="5" fill="#ffb900"/>
<rect x="397" y="30" width="15" height="5" fill="#f6f600"/>
<rect x="412" y="30" width="25" height="5" fill="#ff4000"/>
<rect x="437" y="30" width="20" height="5" fill="#f6f600"/>
<rect x="332" y="35" width="55" height="5" fill="#f6f600"/>
<rect x="387" y="35" width="10" height="5" fill="#ffb900"/>
<rect x="397" y="35" width="15" height="5" fill="#f6f600"/>
<rect x="412" y="35" width="25" height="5" fill="#ff4000"/>
<rect x="437" y="35" width="20" height="5" fill="#f6f600"/>
<rect x="332" y="40" width="55" height="5" fill="#f6f600"/>
<rect x="387" y="40" width="10" height="5" fill="#ffb900"/>
<rect x="397" y="40" width="15" height="5" fill="#f6f600"/>
<rect x="412" y="40" width="15" height="5" fill="#ff4000"/>
<rect x="427" y="40" width="10" height="5" fill="#ffb900"/>
<rect x="437" y="40" width="25" height="5" fill="#f6f600"/>
<rect x="337" y="45" width="25" height="5" fill="#f6f600"/>
<rect x="362" y="45" width="35" height="5" fill="#ffb900"/>
<rect x="397" y="45" width="15" height="5" fill="#f6f600"/>
<rect x="412" y="45" width="10" height="5" fill="#ff4000"/>
<rect x="422" y="45" width="15" height="5" fill="#ffb900"/>
<rect x="437" y="45" width="25" height="5" fill="#f6f600"/>
<rect x="342" y="50" width="15" height="5" fill="#f6f600"/>
<rect x="357" y="50" width="40" height="5" fill="#ffb900"/>
<rect x="397" y="50" width="15" height="5" fill="#f6f600"/>
<rect x="412" y="50" width="10" height="5" fill="#ff4000"/>
<rect x="422" y="50" width="40" height="5" fill="#ffb900"/>
<rect x="357" y="55" width="40" height="5" fill="#ffb900"/>
<rect x="397" y="55" width="15" height="5" fill="#f6f600"/>
<rect x="412" y="55" width="10" height="5" fill="#ff4000"/>
<rect x="422" y="55" width="5" height="5" fill="#ffb900"/>
<rect x="427" y="55" width="40" height="5" fill="#f6f600"/>
<rect x="347" y="60" width="10" height="5" fill="#ff8000"/>
<rect x="357" y="60" width="55" height="5" fill="#f6f600"/>
<rect x="412" y="60" width="30" height="5" fill="#ff8000"/>
<rect x="442" y="60" width="5" height="5" fill="#f6f600"/>
<rect x="447" y="60" width="10" height="5" fill="#ffb900"/>
<rect x="457" y="60" width="15" height="5" fill="#f6f600"/>
<rect x="342" y="65" width="20" height="5" fill="#ff8000"/>
<rect x="362" y="65" width="50" height="5" fill="#f6f600"/>
<rect x="412" y="65" width="15" height="5" fill="#ff8000"/>
<rect x="427" y="65" width="5" height="5" fill="#ffb900"/>
<rect x="432" y="65" width="10" height="5" fill="#ff8000"/>
<rect x="442" y="65" width="15" height="5" fill="#ffb900"/>
<rect x="457" y="65" width="15" height="5" fill="#f6f600"/>
<rect x="337" y="70" width="25" height="5" fill="#ff8000"/>
<rect x="362" y="70" width="35" height="5" fill="#ffb900"/>
<rect x="397" y="70" width="15" height="5" fill="#ff8000"/>
<rect x="412" y="70" width="10" height="5" fill="#ffb900"/>
<rect x="422" y="70" width="5" height="5" fill="#ff4000"/>
<rect x="427" y="70" width="5" height="5" fill="#ffb900"/>
<rect x="432" y="70" width="5" height="5" fill="#ff4000"/>
<rect x="437" y="70" width="15" height="5" fill="#f6f600"/>
<rect x="452" y="70" width="5" height="5" fill="#ff0000"/>
<rect x="457" y="70" width="15" height="5" fill="#f6f600"/>
<rect x="337" y="75" width="25" height="5" fill="#ff8000"/>
<rect x="362" y="75" width="35" height="5" fill="#ffb900"/>
<rect x="397" y="75" width="15" height="5" fill="#ff8000"/>
<rect x="412" y="75" width="15" height="5" fill="#ffb900"/>
<rect x="427" y="75" width="5" height="5" fill="#ff4000"/>
<rect x="432" y="75" width="5" height="5" fill="#ff8000"/>
<rect x="437" y="75" width="5" height="5" fill="#ff0000"/>
<rect x="442" y="75" width="10" height="5" fill="#f6f600"/>
<rect x="452" y="75" width="5" height="5" fill="#ffb900"/>
<rect x="457" y="75" width="15" height="5" fill="#f6f600"/>
<rect x="337" y="80" width="25" height="5" fill="#ff8000"/>
<rect x="362" y="80" width="35" height="5" fill="#ffb900"/>
<rect x="397" y="80" width="15" height="5" fill="#ff8000"/>
<rect x="412" y="80" width="5" height="5" fill="#ffb900"/>
<rect x="417" y="80" width="20" height="5" fill="#f6f600"/>
<rect x="437" y="80" width="5" height="5" fill="#ffb900"/>
<rect x="442" y="80" width="10" height="5" fill="#ff8000"/>
<rect x="452" y="80" width="5" height="5" fill="#ffb900"/>
<rect x="457" y="80" width="20" height="5" fill="#f6f600"/>
<rect x="337" y="85" width="25" height="5" fill="#f6f600"/>
<rect x="362" y="85" width="10" height="5" fill="#ff0000"/>
<rect x="372" y="85" width="15" height="5" fill="#f6f600"/>
<rect x="387" y="85" width="10" height="5" fill="#ffb900"/>
<rect x="397" y="85" width="10" height="5" fill="#ff4000"/>
<rect x="407" y="85" width="10" height="5" fill="#ffb900"/>
<rect x="417" y="85" width="5" height="5" fill="#f6f600"/>
<rect x="422" y="85" width="15" height="5" fill="#ff4000"/>
<rect x="437" y="85" width="15" height="5" fill="#ff8000"/>
<rect x="452" y="85" width="25" height="5" fill="#f6f600"/>
<rect x="337" y="90" width="25" height="5" fill="#f6f600"/>
<rect x="362" y="90" width="10" height="5" fill="#ff0000"/>
<rect x="372" y="90" width="15" height="5" fill="#f6f600"/>
<rect x="387" y="90" width="10" height="5" fill="#ffb900"/>
<rect x="397" y="90" width="10" height="5" fill="#ff4000"/>
<rect x="407" y="90" width="5" height="5" fill="#ff8000"/>
<rect x="412" y="90" width="10" height="5" fill="#ffb900"/>
<rect x="422" y="90" width="5" height="5" fill="#f6f600"/>
<rect x="427" y="90" width="10" height="5" fill="#ffb900"/>
<rect x="437" y="90" width="5" height="5" fill="#ff8000"/>
<rect x="442" y="90" width="5" height="5" fill="#ff4000"/>
<rect x="447" y="90" width="5" height="5" fill="#ffb900"/>
<rect x="452" y="90" width="5" height="5" fill="#ff8000"/>
<rect x="457" y="90" width="20" height="5" fill="#ffb900"/>
<rect x="337" y="95" width="25" height="5" fill="#f6f600"/>
<rect x="362" y="95" width="10" height="5" fill="#ff0000"/>
<rect x="372" y="95" width="20" height="5" fill="#f6f600"/>
<rect x="392" y="95" width="10" height="5" fill="#ffb900"/>
<rect x="402" y="95" width="10" height="5" fill="#ff8000"/>
<rect x="412" y="95" width="5" height="5" fill="#ffb900"/>
<rect x="417" y="95" width="5" height="5" fill="#ff4000"/>
<rect x="422" y="95" width="5" height="5" fill="#ffb900"/>
<rect x="427" y="95" width="5" height="5" fill="#ff4000"/>
<rect x="432" y="95" width="10" height="5" fill="#ff8000"/>
<rect x="442" y="95" width="5" height="5" fill="#ff0000"/>
<rect x="447" y="95" width="5" height="5" fill="#ff8000"/>
<rect x="452" y="95" width="10" height="5" fill="#ffb900"/>
<rect x="462" y="95" width="15" height="5" fill="#ff8000"/>
<rect x="337" y="100" width="40" height="5" fill="#ff8000"/>
<rect x="377" y="100" width="5" height="5" fill="#f6f600"/>
<rect x="382" y="100" width="5" height="5" fill="#ffb900"/>
<rect x="387" y="100" width="15" height="5" fill="#ff8000"/>
<rect x="402" y="100" width="15" height="5" fill="#ffb900"/>
<rect x="417" y="100" width="5" height="5" fill="#ff8000"/>
<rect x="422" y="100" width="5" height="5" fill="#f6f600"/>
<rect x="427" y="100" width="5" height="5" fill="#ffb900"/>
<rect x="432" y="100" width="15" height="5" fill="#ff4000"/>
<rect x="447" y="100" width="5" height="5" fill="#ff8000"/>
<rect x="452" y="100" width="5" height="5" fill="#ffb900"/>
<rect x="457" y="100" width="25" height="5" fill="#ff8000"/>
<rect x="337" y="105" width="40" height="5" fill="#ff8000"/>
<rect x="377" y="105" width="10" height="5" fill="#ffb900"/>
<rect x="387" y="105" width="20" height="5" fill="#ff8000"/>
<rect x="407" y="105" width="5" height="5" fill="#ffb900"/>
<rect x="412" y="105" width="10" height="5" fill="#ff8000"/>
<rect x="422" y="105" width="5" height="5" fill="#ff4000"/>
<rect x="427" y="105" width="5" height="5" fill="#ff0000"/>
<rect x="432" y="105" width="5" height="5" fill="#ffb900"/>
<rect x="437" y="105" width="15" height="5" fill="#ff4000"/>
<rect x="452" y="105" width="5" height="5" fill="#ff8000"/>
<rect x="457" y="105" width="5" height="5" fill="#ffb900"/>
<rect x="462" y="105" width="15" height="5" fill="#ff8000"/>
<rect x="342" y="110" width="35" height="5" fill="#ff8000"/>
<rect x="377" y="110" width="15" height="5" fill="#ffb900"/>
<rect x="392" y="110" width="5" height="5" fill="#ff8000"/>
<rect x="397" y="110" width="5" height="5" fill="#ff4000"/>
<rect x="402" y="110" width="10" height="5" fill="#ff8000"/>
<rect x="412" y="110" width="5" height="5" fill="#ff0000"/>
<rect x="417" y="110" width="5" height="5" fill="#ff8000"/>
<rect x="422" y="110" width="5" height="5" fill="#ff0000"/>
<rect x="427" y="110" width="5" height="5" fill="#ff4000"/>
<rect x="432" y="110" width="5" height="5" fill="#ffb900"/>
<rect x="437" y="110" width="15" height="5" fill="#ff8000"/>
<rect x="452" y="110" width="5" height="5" fill="#ff4000"/>
<rect x="457" y="110" width="5" height="5" fill="#ff0000"/>
<rect x="462" y="110" width="20" height="5" fill="#f6f600"/>
<rect x="347" y="115" width="30" height="5" fill="#ff8000"/>
<rect x="377" y="115" width="15" height="5" fill="#ffb900"/>
<rect x="392" y="115" width="5" height="5" fill="#ff8000"/>
<rect x="397" y="115" width="5" height="5" fill="#ff4000"/>
<rect x="402" y="115" width="10" height="5" fill="#ff8000"/>
<rect x="412" y="115" width="5" height="5" fill="#ff0000"/>
<rect x="417" y="115" width="5" height="5" fill="#ff8000"/>
<rect x="422" y="115" width="5" height="5" fill="#ffb900"/>
<rect x="427" y="115" width="5" height="5" fill="#ff8000"/>
<rect x="432" y="115" width="5" height="5" fill="#ffb900"/>
<rect x="437" y="115" width="20" height="5" fill="#ff8000"/>
<rect x="457" y="115" width="5" height="5" fill="#ff4000"/>
<rect x="462" y="115" width="10" height="5" fill="#f6f600"/>
<rect x="472" y="115" width="15" height="5" fill="#ffb900"/>
<rect x="357" y="120" width="15" height="5" fill="#ff8000"/>
<rect x="372" y="120" width="15" height="5" fill="#f6f600"/>
<rect x="387" y="120" width="20" height="5" fill="#ffb900"/>
<rect x="407" y="120" width="5" height="5" fill="#f6f600"/>
<rect x="412" y="120" width="5" height="5" fill="#ffb900"/>
<rect x="417" y="120" width="10" height="5" fill="#ff0000"/>
<rect x="427" y="120" width="10" height="5" fill="#ff4000"/>
<rect x="437" y="120" width="25" height="5" fill="#ff8000"/>
<rect x="462" y="120" width="15" height="5" fill="#ffb900"/>
<rect x="477" y="120" width="15" height="5" fill="#1e0a0a"/>
<rect x="357" y="125" width="20" height="5" fill="#ff8000"/>
<rect x="377" y="125" width="20" height="5" fill="#f6f600"/>
<rect x="397" y="125" width="5" height="5" fill="#ffb900"/>
<rect x="402" y="125" width="5" height="5" fill="#f6f600"/>
<rect x="407" y="125" width="5" height="5" fill="#ffb900"/>
<rect x="412" y="125" width="10" height="5" fill="#ff8000"/>
<rect x="422" y="125" width="5" height="5" fill="#ffb900"/>
<rect x="427" y="125" width="40" height="5" fill="#ff8000"/>
<rect x="467" y="125" width="25" height="5" fill="#ff0000"/>
<rect x="357" y="130" width="30" height="5" fill="#ff8000"/>
<rect x="387" y="130" width="15" height="5" fill="#f6f600"/>
<rect x="402" y="130" width="5" height="5" fill="#ffb900"/>
<rect x="407" y="130" width="5" height="5" fill="#ff8000"/>
<rect x="412" y="130" width="10" height="5" fill="#ff4000"/>
<rect x="422" y="130" width="20" height="5" fill="#ff8000"/>
<rect x="442" y="130" width="20" height="5" fill="#ff4000"/>
<rect x="462" y="130" width="25" height="5" fill="#ff0000"/>
<rect x="357" y="135" width="30" height="5" fill="#ff8000"/>
<rect x="387" y="135" width="10" height="5" fill="#ffb900"/>
<rect x="397" y="135" width="5" height="5" fill="#f6f600"/>
<rect x="402" y="135" width="5" height="5" fill="#ffb900"/>
<rect x="407" y="135" width="5" height="5" fill="#ff8000"/>
<rect x="412" y="135" width="5" height="5" fill="#ff4000"/>
<rect x="417" y="135" width="5" height="5" fill="#ff8000"/>
<rect x="422" y="135" width="5" height="5" fill="#ffb900"/>
<rect x="427" y="135" width="5" height="5" fill="#f6f600"/>
<rect x="432" y="135" width="5" height="5" fill="#ffb900"/>
<rect x="437" y="135" width="5" height="5" fill="#f6f600"/>
<rect x="442" y="135" width="5" height="5" fill="#ff4000"/>
<rect x="447" y="135" width="15" height="5" fill="#ff0000"/>
<rect x="462" y="135" width="20" height="5" fill="#ff8000"/>
<rect x="357" y="140" width="30" height="5" fill="#ff8000"/>
<rect x="387" y="140" width="10" height="5" fill="#ffb900"/>
<rect x="397" y="140" width="5" height="5" fill="#f6f600"/>
<rect x="402" y="140" width="10" height="5" fill="#ff8000"/>
<rect x="412" y="140" width="5" height="5" fill="#ff4000"/>
<rect x="417" y="140" width="5" height="5" fill="#ffb900"/>
<rect x="422" y="140" width="5" height="5" fill="#ff8000"/>
<rect x="427" y="140" width="5" height="5" fill="#ff4000"/>
<rect x="432" y="140" width="5" height="5" fill="#ffb900"/>
<rect x="437" y="140" width="50" height="5" fill="#ff4000"/>
<rect x="357" y="145" width="30" height="5" fill="#ff8000"/>
<rect x="387" y="145" width="10" height="5" fill="#1e0a0a"/>
<rect x="397" y="145" width="5" height="5" fill="#f6f600"/>
<rect x="402" y="145" width="5" height="5" fill="#ff8000"/>
<rect x="407" y="145" width="10" height="5" fill="#ffb900"/>
<rect x="417" y="145" width="10" height="5" fill="#f6f600"/>
<rect x="427" y="145" width="5" height="5" fill="#ffb900"/>
<rect x="432" y="145" width="5" height="5" fill="#ff8000"/>
<rect x="437" y="145" width="10" height="5" fill="#ffb900"/>
<rect x="447" y="145" width="20" height="5" fill="#ff4000"/>
<rect x="467" y="145" width="20" height="5" fill="#ffb900"/>
<rect x="362" y="150" width="25" height="5" fill="#ff8000"/>
<rect x="387" y="150" width="10" height="5" fill="#1e0a0a"/>
<rect x="397" y="150" width="5" height="5" fill="#f6f600"/>
<rect x="402" y="150" width="5" height="5" fill="#ffb900"/>
<rect x="407" y="150" width="5" height="5" fill="#ff8000"/>
<rect x="412" y="150" width="5" height="5" fill="#ffb900"/>
<rect x="417" y="150" width="5" height="5" fill="#f6f600"/>
<rect x="422" y="150" width="5" height="5" fill="#ffb900"/>
<rect x="427" y="150" width="5" height="5" fill="#ff8000"/>
<rect x="432" y="150" width="5" height="5" fill="#ff4000"/>
<rect x="437" y="150" width="5" height="5" fill="#f6f600"/>
<rect x="442" y="150" width="5" height="5" fill="#ffb900"/>
<rect x="447" y="150" width="5" height="5" fill="#ff8000"/>
<rect x="452" y="150" width="20" height="5" fill="#ff4000"/>
<rect x="472" y="150" width="15" height="5" fill="#ffb900"/>
<rect x="367" y="155" width="15" height="5" fill="#ff8000"/>
<rect x="382" y="155" width="15" height="5" fill="#1e0a0a"/>
<rect x="397" y="155" width="10" height="5" fill="#f6f600"/>
<rect x="407" y="155" width="5" height="5" fill="#ff8000"/>
<rect x="412" y="155" width="5" height="5" fill="#ffb900"/>
<rect x="417" y="155" width="5" height="5" fill="#ff0000"/>
<rect x="422" y="155" width="5" height="5" fill="#ff4000"/>
<rect x="427" y="155" width="5" height="5" fill="#ffb900"/>
<rect x="432" y="155" width="5" height="5" fill="#ff0000"/>
<rect x="437" y="155" width="10" height="5" fill="#ffb900"/>
<rect x="447" y="155" width="5" height="5" fill="#ff8000"/>
<rect x="452" y="155" width="20" height="5" fill="#ff4000"/>
<rect x="472" y="155" width="15" height="5" fill="#ff0000"/>
<rect x="382" y="160" width="15" height="5" fill="#1e0a0a"/>
<rect x="397" y="160" width="5" height="5" fill="#f6f600"/>
<rect x="402" y="160" width="5" height="5" fill="#ff8000"/>
<rect x="407" y="160" width="5" height="5" fill="#ffb900"/>
<rect x="412" y="160" width="5" height="5" fill="#f6f600"/>
<rect x="417" y="160" width="10" height="5" fill="#ff0000"/>
<rect x="427" y="160" width="5" height="5" fill="#ff4000"/>
<rect x="432" y="160" width="5" height="5" fill="#ff0000"/>
<rect x="437" y="160" width="5" height="5" fill="#ff4000"/>
<rect x="442" y="160" width="25" height="5" fill="#1e0a0a"/>
<rect x="467" y="160" width="5" height="5" fill="#ff4000"/>
<rect x="472" y="160" width="20" height="5" fill="#1e0a0a"/>
<rect x="382" y="165" width="15" height="5" fill="#1e0a0a"/>
<rect x="397" y="165" width="5" height="5" fill="#ff8000"/>
<rect x="402" y="165" width="5" height="5" fill="#ff4000"/>
<rect x="407" y="165" width="5" height="5" fill="#ffb900"/>
<rect x="412" y="165" width="5" height="5" fill="#ff4000"/>
<rect x="417" y="165" width="5" height="5" fill="#ff0000"/>
<rect x="422" y="165" width="5" height="5" fill="#ff8000"/>
<rect x="427" y="165" width="20" height="5" fill="#1e0a0a"/>
<rect x="447" y="165" width="5" height="5" fill="#ff4000"/>
<rect x="452" y="165" width="5" height="5" fill="#f6f600"/>
<rect x="457" y="165" width="10" height="5" fill="#ff8000"/>
<rect x="467" y="165" width="5" height="5" fill="#ff4000"/>
<rect x="472" y="165" width="20" height="5" fill="#1e0a0a"/>
<rect x="382" y="170" width="15" height="5" fill="#1e0a0a"/>
<rect x="397" y="170" width="5" height="5" fill="#ff4000"/>
<rect x="402" y="170" width="5" height="5" fill="#ff8000"/>
<rect x="407" y="170" width="25" height="5" fill="#1e0a0a"/>
<rect x="432" y="170" width="5" height="5" fill="#ff4000"/>
<rect x="437" y="170" width="5" height="5" fill="#ff0000"/>
<rect x="442" y="170" width="5" height="5" fill="#1e0a0a"/>
<rect x="447" y="170" width="5" height="5" fill="#ffb900"/>
<rect x="452" y="170" width="10" height="5" fill="#ff4000"/>
<rect x="462" y="170" width="15" height="5" fill="#ff8000"/>
<rect x="477" y="170" width="15" height="5" fill="#1e0a0a"/>
<rect x="382" y="175" width="50" height="5" fill="#1e0a0a"/>
<rect x="432" y="175" width="5" height="5" fill="#ff4000"/>
<rect x="437" y="175" width="5" height="5" fill="#ff0000"/>
<rect x="442" y="175" width="5" height="5" fill="#1e0a0a"/>
<rect x="447" y="175" width="5" height="5" fill="#ff4000"/>
<rect x="452" y="175" width="20" height="5" fill="#ff8000"/>
<rect x="472" y="175" width="5" height="5" fill="#ff4000"/>
<rect x="477" y="175" width="15" height="5" fill="#ff8000"/>
<rect x="382" y="180" width="25" height="5" fill="#1e0a0a"/>
<rect x="407" y="180" width="15" height="5" fill="#ff4000"/>
<rect x="422" y="180" width="5" height="5" fill="#1e0a0a"/>
<rect x="427" y="180" width="10" height="5" fill="#f6f600"/>
<rect x="437" y="180" width="5" height="5" fill="#ff4000"/>
<rect x="442" y="180" width="10" height="5" fill="#1e0a0a"/>
<rect x="452" y="180" width="20" height="5" fill="#ff4000"/>
<rect x="472" y="180" width="5" height="5" fill="#ffb900"/>
<rect x="477" y="180" width="15" height="5" fill="#f6f600"/>
<rect x="382" y="185" width="20" height="5" fill="#1e0a0a"/>
<rect x="402" y="185" width="15" height="5" fill="#ff4000"/>
<rect x="417" y="185" width="10" height="5" fill="#ffb900"/>
<rect x="427" y="185" width="5" height="5" fill="#1e0a0a"/>
<rect x="432" y="185" width="5" height="5" fill="#ff4000"/>
<rect x="437" y="185" width="35" height="5" fill="#1e0a0a"/>
<rect x="472" y="185" width="5" height="5" fill="#ff8000"/>
<rect x="477" y="185" width="20" height="5" fill="#f6f600"/>
<rect x="382" y="190" width="20" height="5" fill="#ff4000"/>
<rect x="402" y="190" width="10" height="5" fill="#1e0a0a"/>
<rect x="412" y="190" width="15" height="5" fill="#ffb900"/>
<rect x="427" y="190" width="5" height="5" fill="#1e0a0a"/>
<rect x="432" y="190" width="5" height="5" fill="#ff0000"/>
<rect x="437" y="190" width="5" height="5" fill="#ff4000"/>
<rect x="442" y="190" width="15" height="5" fill="#1e0a0a"/>
<rect x="457" y="190" width="5" height="5" fill="#ff4000"/>
<rect x="462" y="190" width="5" height="5" fill="#ffb900"/>
<rect x="467" y="190" width="5" height="5" fill="#1e0a0a"/>
<rect x="472" y="190" width="5" height="5" fill="#ffb900"/>
<rect x="477" y="190" width="25" height="5" fill="#f6f600"/>
<rect x="377" y="195" width="5" height="5" fill="#ff8000"/>
<rect x="382" y="195" width="30" height="5" fill="#ff0000"/>
<rect x="412" y="195" width="20" height="5" fill="#ff4000"/>
<rect x="432" y="195" width="10" height="5" fill="#ff0000"/>
<rect x="442" y="195" width="5" height="5" fill="#ff4000"/>
<rect x="447" y="195" width="10" height="5" fill="#1e0a0a"/>
<rect x="457" y="195" width="5" height="5" fill="#f6f600"/>
<rect x="462" y="195" width="5" height="5" fill="#ffb900"/>
<rect x="467" y="195" width="5" height="5" fill="#ff8000"/>
<rect x="472" y="195" width="20" height="5" fill="#f6f600"/>
<rect x="492" y="195" width="15" height="5" fill="#ffb900"/>
<rect x="377" y="200" width="10" height="5" fill="#ff8000"/>
<rect x="387" y="200" width="30" height="5" fill="#ff0000"/>
<rect x="417" y="200" width="15" height="5" fill="#ff4000"/>
<rect x="432" y="200" width="5" height="5" fill="#ff0000"/>
<rect x="437" y="200" width="5" height="5" fill="#ff8000"/>
<rect x="442" y="200" width="5" height="5" fill="#ffb900"/>
<rect x="447" y="200" width="5" height="5" fill="#ff0000"/>
<rect x="452" y="200" width="5" height="5" fill="#ff4000"/>
<rect x="457" y="200" width="5" height="5" fill="#f6f600"/>
<rect x="462" y="200" width="5" height="5" fill="#ffb900"/>
<rect x="467" y="200" width="10" height="5" fill="#ff8000"/>
<rect x="477" y="200" width="30" height="5" fill="#f6f600"/>
<rect x="377" y="205" width="15" height="5" fill="#ff8000"/>
<rect x="392" y="205" width="25" height="5" fill="#ff0000"/>
<rect x="417" y="205" width="15" height="5" fill="#ff4000"/>
<rect x="432" y="205" width="5" height="5" fill="#ff0000"/>
<rect x="437" y="205" width="5" height="5" fill="#ff4000"/>
<rect x="442" y="205" width="5" height="5" fill="#f6f600"/>
<rect x="447" y="205" width="5" height="5" fill="#ff8000"/>
<rect x="452" y="205" width="5" height="5" fill="#ffb900"/>
<rect x="457" y="205" width="5" height="5" fill="#ff8000"/>
<rect x="462" y="205" width="5" height="5" fill="#ffb900"/>
<rect x="467" y="205" width="20" height="5" fill="#ff8000"/>
<rect x="487" y="205" width="20" height="5" fill="#f6f600"/>
<rect x="377" y="210" width="15" height="5" fill="#ff8000"/>
<rect x="392" y="210" width="25" height="5" fill="#ff0000"/>
<rect x="417" y="210" width="15" height="5" fill="#ff4000"/>
<rect x="432" y="210" width="10" height="5" fill="#ff8000"/>
<rect x="442" y="210" width="5" height="5" fill="#f6f600"/>
<rect x="447" y="210" width="5" height="5" fill="#ff4000"/>
<rect x="452" y="210" width="5" height="5" fill="#ff8000"/>
<rect x="457" y="210" width="5" height="5" fill="#ffb900"/>
<rect x="462" y="210" width="15" height="5" fill="#ff8000"/>
<rect x="477" y="210" width="5" height="5" fill="#f6f600"/>
<rect x="482" y="210" width="10" height="5" fill="#ff8000"/>
<rect x="492" y="210" width="15" height="5" fill="#f6f600"/>
<rect x="377" y="215" width="15" height="5" fill="#ff8000"/>
<rect x="392" y="215" width="35" height="5" fill="#ff4000"/>
<rect x="427" y="215" width="10" height="5" fill="#ffb900"/>
<rect x="437" y="215" width="5" height="5" fill="#ff8000"/>
<rect x="442" y="215" width="5" height="5" fill="#ff4000"/>
<rect x="447" y="215" width="5" height="5" fill="#f6f600"/>
<rect x="452" y="215" width="5" height="5" fill="#ff4000"/>
<rect x="457" y="215" width="10" height="5" fill="#ff8000"/>
<rect x="467" y="215" width="5" height="5" fill="#ff4000"/>
<rect x="472" y="215" width="5" height="5" fill="#ff8000"/>
<rect x="477" y="215" width="5" height="5" fill="#f6f600"/>
<rect x="482" y="215" width="5" height="5" fill="#ff8000"/>
<rect x="487" y="215" width="20" height="5" fill="#f6f600"/>
<rect x="377" y="220" width="15" height="5" fill="#ff8000"/>
<rect x="392" y="220" width="40" height="5" fill="#ff4000"/>
<rect x="432" y="220" width="5" height="5" fill="#ff8000"/>
<rect x="437" y="220" width="5" height="5" fill="#ff4000"/>
<rect x="442" y="220" width="5" height="5" fill="#ff8000"/>
<rect x="447" y="220" width="15" height="5" fill="#ff4000"/>
<rect x="462" y="220" width="5" height="5" fill="#ff8000"/>
<rect x="467" y="220" width="5" height="5" fill="#1e0a0a"/>
<rect x="472" y="220" width="5" height="5" fill="#ff8000"/>
<rect x="477" y="220" width="5" height="5" fill="#f6f600"/>
<rect x="482" y="220" width="5" height="5" fill="#ffb900"/>
<rect x="487" y="220" width="5" height="5" fill="#f6f600"/>
<rect x="492" y="220" width="15" height="5" fill="#ffb900"/>
<rect x="507" y="220" width="5" height="5" fill="#ff8000"/>
<rect x="377" y="225" width="15" height="5" fill="#ff8000"/>
<rect x="392" y="225" width="40" height="5" fill="#ff4000"/>
<rect x="432" y="225" width="5" height="5" fill="#ff8000"/>
<rect x="437" y="225" width="10" height="5" fill="#ff4000"/>
<rect x="447" y="225" width="5" height="5" fill="#f6f600"/>
<rect x="452" y="225" width="5" height="5" fill="#ff8000"/>
<rect x="457" y="225" width="5" height="5" fill="#ffb900"/>
<rect x="462" y="225" width="10" height="5" fill="#1e0a0a"/>
<rect x="472" y="225" width="5" height="5" fill="#ff4000"/>
<rect x="477" y="225" width="5" height="5" fill="#1e0a0a"/>
<rect x="482" y="225" width="10" height="5" fill="#ff0000"/>
<rect x="492" y="225" width="25" height="5" fill="#ff8000"/>
<rect x="377" y="230" width="10" height="5" fill="#ff8000"/>
<rect x="387" y="230" width="10" height="5" fill="#1e0a0a"/>
<rect x="397" y="230" width="35" height="5" fill="#ff4000"/>
<rect x="432" y="230" width="5" height="5" fill="#ff8000"/>
<rect x="437" y="230" width="5" height="5" fill="#ff4000"/>
<rect x="442" y="230" width="5" height="5" fill="#ff0000"/>
<rect x="447" y="230" width="5" height="5" fill="#f6f600"/>
<rect x="452" y="230" width="5" height="5" fill="#ff8000"/>
<rect x="457" y="230" width="10" height="5" fill="#ffb900"/>
<rect x="467" y="230" width="5" height="5" fill="#1e0a0a"/>
<rect x="472" y="230" width="10" height="5" fill="#ff4000"/>
<rect x="482" y="230" width="10" height="5" fill="#ff0000"/>
<rect x="492" y="230" width="30" height="5" fill="#ff8000"/>
<rect x="522" y="230" width="5" height="5" fill="#1e0a0a"/>
<rect x="377" y="235" width="5" height="5" fill="#ff8000"/>
<rect x="382" y="235" width="20" height="5" fill="#1e0a0a"/>
<rect x="402" y="235" width="30" height="5" fill="#f6f600"/>
<rect x="432" y="235" width="5" height="5" fill="#ff8000"/>
<rect x="437" y="235" width="5" height="5" fill="#ff4000"/>
<rect x="442" y="235" width="5" height="5" fill="#ff0000"/>
<rect x="447" y="235" width="25" height="5" fill="#ff8000"/>
<rect x="472" y="235" width="5" height="5" fill="#ff4000"/>
<rect x="477" y="235" width="5" height="5" fill="#ff8000"/>
<rect x="482" y="235" width="5" height="5" fill="#ff4000"/>
<rect x="487" y="235" width="5" height="5" fill="#ff0000"/>
<rect x="492" y="235" width="5" height="5" fill="#ff8000"/>
<rect x="497" y="235" width="25" height="5" fill="#f6f600"/>
<rect x="522" y="235" width="10" height="5" fill="#1e0a0a"/>
<rect x="382" y="240" width="20" height="5" fill="#f6f600"/>
<rect x="402" y="240" width="10" height="5" fill="#1e0a0a"/>
<rect x="412" y="240" width="20" height="5" fill="#f6f600"/>
<rect x="432" y="240" width="5" height="5" fill="#ffb900"/>
<rect x="437" y="240" width="15" height="5" fill="#ff8000"/>
<rect x="452" y="240" width="5" height="5" fill="#ffb900"/>
<rect x="457" y="240" width="5" height="5" fill="#ff8000"/>
<rect x="462" y="240" width="5" height="5" fill="#ffb900"/>
<rect x="467" y="240" width="5" height="5" fill="#ff8000"/>
<rect x="472" y="240" width="10" height="5" fill="#f6f600"/>
<rect x="482" y="240" width="10" height="5" fill="#ff0000"/>
<rect x="492" y="240" width="15" height="5" fill="#f6f600"/>
<rect x="507" y="240" width="5" height="5" fill="#ffb900"/>
<rect x="512" y="240" width="5" height="5" fill="#f6f600"/>
<rect x="517" y="240" width="20" height="5" fill="#1e0a0a"/>
<rect x="382" y="245" width="30" height="5" fill="#f6f600"/>
<rect x="412" y="245" width="20" height="5" fill="#1e0a0a"/>
<rect x="432" y="245" width="25" height="5" fill="#ffb900"/>
<rect x="457" y="245" width="5" height="5" fill="#1e0a0a"/>
<rect x="462" y="245" width="10" height="5" fill="#ffb900"/>
<rect x="472" y="245" width="5" height="5" fill="#f6f600"/>
<rect x="477" y="245" width="5" height="5" fill="#ff0000"/>
<rect x="482" y="245" width="10" height="5" fill="#ff4000"/>
<rect x="492" y="245" width="5" height="5" fill="#f6f600"/>
<rect x="497" y="245" width="5" height="5" fill="#ffb900"/>
<rect x="502" y="245" width="10" height="5" fill="#f6f600"/>
<rect x="512" y="245" width="25" height="5" fill="#1e0a0a"/>
<rect x="382" y="250" width="50" height="5" fill="#f6f600"/>
<rect x="432" y="250" width="25" height="5" fill="#ffb900"/>
<rect x="457" y="250" width="5" height="5" fill="#1e0a0a"/>
<rect x="462" y="250" width="10" height="5" fill="#ff8000"/>
<rect x="472" y="250" width="20" height="5" fill="#ff4000"/>
<rect x="492" y="250" width="15" height="5" fill="#ff0000"/>
<rect x="507" y="250" width="5" height="5" fill="#ff4000"/>
<rect x="512" y="250" width="25" height="5" fill="#1e0a0a"/>
<rect x="382" y="255" width="50" height="5" fill="#f6f600"/>
<rect x="432" y="255" width="25" height="5" fill="#ffb900"/>
<rect x="457" y="255" width="5" height="5" fill="#ff8000"/>
<rect x="462" y="255" width="5" height="5" fill="#1e0a0a"/>
<rect x="467" y="255" width="25" height="5" fill="#ff4000"/>
<rect x="492" y="255" width="15" height="5" fill="#ff0000"/>
<rect x="507" y="255" width="5" height="5" fill="#ff4000"/>
<rect x="512" y="255" width="25" height="5" fill="#1e0a0a"/>
<rect x="382" y="260" width="50" height="5" fill="#f6f600"/>
<rect x="432" y="260" width="25" height="5" fill="#ffb900"/>
<rect x="457" y="260" width="5" height="5" fill="#ff8000"/>
<rect x="462" y="260" width="5" height="5" fill="#1e0a0a"/>
<rect x="467" y="260" width="5" height="5" fill="#ff4000"/>
<rect x="472" y="260" width="5" height="5" fill="#ff8000"/>
<rect x="477" y="260" width="15" height="5" fill="#ff4000"/>
<rect x="492" y="260" width="15" height="5" fill="#ff0000"/>
<rect x="507" y="260" width="5" height="5" fill="#ffb900"/>
<rect x="512" y="260" width="5" height="5" fill="#f6f600"/>
<rect x="517" y="260" width="10" height="5" fill="#1e0a0a"/>
<rect x="527" y="260" width="10" height="5" fill="#ff4000"/>
<rect x="387" y="265" width="40" height="5" fill="#f6f600"/>
<rect x="427" y="265" width="30" height="5" fill="#ffb900"/>
<rect x="457" y="265" width="5" height="5" fill="#ff8000"/>
<rect x="462" y="265" width="5" height="5" fill="#1e0a0a"/>
<rect x="467" y="265" width="10" height="5" fill="#ff8000"/>
<rect x="477" y="265" width="15" height="5" fill="#ff4000"/>
<rect x="492" y="265" width="15" height="5" fill="#ff0000"/>
<rect x="507" y="265" width="5" height="5" fill="#ffb900"/>
<rect x="512" y="265" width="5" height="5" fill="#f6f600"/>
<rect x="517" y="265" width="5" height="5" fill="#1e0a0a"/>
<rect x="522" y="265" width="15" height="5" fill="#ff4000"/>
<rect x="392" y="270" width="30" height="5" fill="#f6f600"/>
<rect x="422" y="270" width="35" height="5" fill="#ffb900"/>
<rect x="457" y="270" width="10" height="5" fill="#1e0a0a"/>
<rect x="467" y="270" width="10" height="5" fill="#ff8000"/>
<rect x="477" y="270" width="15" height="5" fill="#ff4000"/>
<rect x="492" y="270" width="15" height="5" fill="#ff0000"/>
<rect x="507" y="270" width="5" height="5" fill="#f6f600"/>
<rect x="512" y="270" width="5" height="5" fill="#ffb900"/>
<rect x="517" y="270" width="10" height="5" fill="#1e0a0a"/>
<rect x="527" y="270" width="10" height="5" fill="#ff0000"/>
<rect x="422" y="275" width="40" height="5" fill="#ffb900"/>
<rect x="462" y="275" width="10" height="5" fill="#ff8000"/>
<rect x="472" y="275" width="10" height="5" fill="#1e0a0a"/>
<rect x="482" y="275" width="15" height="5" fill="#f6f600"/>
<rect x="497" y="275" width="15" height="5" fill="#ff0000"/>
<rect x="512" y="275" width="10" height="5" fill="#1e0a0a"/>
<rect x="522" y="275" width="15" height="5" fill="#ff4000"/>
<rect x="422" y="280" width="40" height="5" fill="#f6f600"/>
<rect x="462" y="280" width="10" height="5" fill="#ffb900"/>
<rect x="472" y="280" width="10" height="5" fill="#1e0a0a"/>
<rect x="482" y="280" width="15" height="5" fill="#f6f600"/>
<rect x="497" y="280" width="15" height="5" fill="#ff0000"/>
<rect x="512" y="280" width="10" height="5" fill="#1e0a0a"/>
<rect x="522" y="280" width="15" height="5" fill="#ff4000"/>
<rect x="422" y="285" width="40" height="5" fill="#f6f600"/>
<rect x="462" y="285" width="10" height="5" fill="#ffb900"/>
<rect x="472" y="285" width="25" height="5" fill="#f6f600"/>
<rect x="497" y="285" width="15" height="5" fill="#ff0000"/>
<rect x="512" y="285" width="10" height="5" fill="#1e0a0a"/>
<rect x="522" y="285" width="15" height="5" fill="#ffb900"/>
<rect x="422" y="290" width="40" height="5" fill="#f6f600"/>
<rect x="462" y="290" width="10" height="5" fill="#ffb900"/>
<rect x="472" y="290" width="10" height="5" fill="#ff0000"/>
<rect x="482" y="290" width="10" height="5" fill="#1e0a0a"/>
<rect x="492" y="290" width="5" height="5" fill="#f6f600"/>
<rect x="497" y="290" width="15" height="5" fill="#ff8000"/>
<rect x="512" y="290" width="10" height="5" fill="#1e0a0a"/>
<rect x="522" y="290" width="15" height="5" fill="#ffb900"/>
<rect x="417" y="295" width="45" height="5" fill="#ffb900"/>
<rect x="462" y="295" width="10" height="5" fill="#ff8000"/>
<rect x="472" y="295" width="10" height="5" fill="#ff0000"/>
<rect x="482" y="295" width="15" height="5" fill="#1e0a0a"/>
<rect x="497" y="295" width="15" height="5" fill="#ff8000"/>
<rect x="512" y="295" width="10" height="5" fill="#1e0a0a"/>
<rect x="522" y="295" width="15" height="5" fill="#ffb900"/>
<rect x="417" y="300" width="45" height="5" fill="#ffb900"/>
<rect x="462" y="300" width="10" height="5" fill="#ff8000"/>
<rect x="472" y="300" width="5" height="5" fill="#ff4000"/>
<rect x="477" y="300" width="20" height="5" fill="#ff0000"/>
<rect x="497" y="300" width="15" height="5" fill="#f6f600"/>
<rect x="512" y="300" width="10" height="5" fill="#1e0a0a"/>
<rect x="522" y="300" width="15" height="5" fill="#ffb900"/>
<rect x="417" y="305" width="35" height="5" fill="#ffb900"/>
<rect x="452" y="305" width="10" height="5" fill="#ff0000"/>
<rect x="462" y="305" width="10" height="5" fill="#ff8000"/>
<rect x="472" y="305" width="5" height="5" fill="#ff4000"/>
<rect x="477" y="305" width="5" height="5" fill="#ff8000"/>
<rect x="482" y="305" width="15" height="5" fill="#ff0000"/>
<rect x="497" y="305" width="15" height="5" fill="#f6f600"/>
<rect x="512" y="305" width="5" height="5" fill="#1e0a0a"/>
<rect x="517" y="305" width="20" height="5" fill="#f6f600"/>
<rect x="422" y="310" width="25" height="5" fill="#ffb900"/>
<rect x="447" y="310" width="15" height="5" fill="#ff0000"/>
<rect x="462" y="310" width="10" height="5" fill="#ff8000"/>
<rect x="472" y="310" width="5" height="5" fill="#ff4000"/>
<rect x="477" y="310" width="20" height="5" fill="#ff8000"/>
<rect x="497" y="310" width="15" height="5" fill="#f6f600"/>
<rect x="512" y="310" width="5" height="5" fill="#1e0a0a"/>
<rect x="517" y="310" width="20" height="5" fill="#f6f600"/>
<rect x="427" y="315" width="15" height="5" fill="#ffb900"/>
<rect x="442" y="315" width="20" height="5" fill="#ff0000"/>
<rect x="462" y="315" width="10" height="5" fill="#ff8000"/>
<rect x="472" y="315" width="5" height="5" fill="#1e0a0a"/>
<rect x="477" y="315" width="35" height="5" fill="#f6f600"/>
<rect x="512" y="315" width="5" height="5" fill="#1e0a0a"/>
<rect x="517" y="315" width="20" height="5" fill="#f6f600"/>
<rect x="432" y="320" width="10" height="5" fill="#ffb900"/>
<rect x="442" y="320" width="10" height="5" fill="#ff0000"/>
<rect x="452" y="320" width="20" height="5" fill="#ff8000"/>
<rect x="472" y="320" width="5" height="5" fill="#1e0a0a"/>
<rect x="477" y="320" width="35" height="5" fill="#f6f600"/>
<rect x="512" y="320" width="5" height="5" fill="#1e0a0a"/>
<rect x="517" y="320" width="20" height="5" fill="#f6f600"/>
<rect x="447" y="325" width="25" height="5" fill="#ff8000"/>
<rect x="472" y="325" width="5" height="5" fill="#1e0a0a"/>
<rect x="477" y="325" width="60" height="5" fill="#f6f600"/>
<rect x="452" y="330" width="15" height="5" fill="#ff8000"/>
<rect x="467" y="330" width="70" height="5" fill="#f6f600"/>
<rect x="472" y="335" width="40" height="5" fill="#f6f600"/>
<rect x="512" y="335" width="10" height="5" fill="#1e0a0a"/>
<rect x="522" y="335" width="15" height="5" fill="#f6f600"/>
<rect x="472" y="340" width="40" height="5" fill="#f6f600"/>
<rect x="512" y="340" width="15" height="5" fill="#1e0a0a"/>
<rect x="527" y="340" width="10" height="5" fill="#f6f600"/>
</g>
<rect x="351.3" y="207.7" width="39.7" height="11.0" fill="#ff8000"/>
<rect x="364.8" y="218.7" width="26.2" height="10.9" fill="#ff8000"/>
<rect x="523.0" y="276.0" width="12.0" height="27.7" fill="#ffb900"/>
<rect x="521.0" y="303.7" width="14.0" height="33.3" fill="#f6f600"/>
<rect x="510.6" y="274.0" width="7.4" height="13.0" fill="#ff0000"/>
</g>
<polygon points="216.0,287.6 227.0,287.6 227.5,300.0 227.0,329.6 215.0,329.6 210.0,325.0 207.6,315.0 207.6,303.0 210.0,295.0 213.0,290.0" fill="#fff"/>
<polygon points="216.0,287.6 227.0,287.6 227.5,300.0 227.0,329.6 215.0,329.6 210.0,325.0 207.6,315.0 207.6,303.0 210.0,295.0 213.0,290.0" fill="#fff" transform="translate(277,0)"/>
<polygon points="197.5,203.8 202.4,203.8 202.4,213.4 197.5,213.4" fill="#fff"/>
<polygon points="197.5,203.8 202.4,203.8 202.4,213.4 197.5,213.4" fill="#fff" transform="translate(277,0)"/>
<polygon points="141.5,70.5 145.5,71.5 151.2,82.5 158.0,89.5 162.5,90.5 165.4,98.4 172.7,108.4 177.7,115.2 181.0,117.5 186.0,123.0 192.0,121.8 198.6,122.5 198.6,126.8 190.0,127.5 188.0,130.2 176.0,130.2 170.2,125.3 168.5,122.0 167.6,116.8 164.3,108.4 158.4,100.0 152.4,91.5 146.7,82.5 141.5,73.0" fill="#1e0a0a"/>
<polygon points="153.5,124.0 170.0,123.5 170.0,127.0 153.5,127.0" fill="#1e0a0a"/>
<polygon points="176.0,128.0 187.3,128.0 187.3,158.0 178.5,158.0 177.5,150.0 176.5,140.0" fill="#1e0a0a"/>
<polygon points="187.0,154.0 180.0,156.0 172.0,158.0 163.0,161.0 155.0,165.0 146.0,168.5 140.0,170.0 130.0,172.5 120.0,175.5 115.0,176.5 115.0,181.0 130.0,179.0 140.0,177.0 152.0,175.0 160.0,172.0 168.0,168.5 178.0,164.5 187.0,162.0" fill="#1e0a0a"/>
<polygon points="114.6,144.5 118.0,144.5 118.0,173.7 114.6,173.7" fill="#1e0a0a"/>
<polyline points="82.5,93.5 83.5,99.5 86.0,101.0 95.0,101.5 104.0,100.8" fill="none" stroke="#1e0a0a" stroke-width="3" stroke-linejoin="round" stroke-linecap="round"/>
<polyline points="113.8,61.5 114.2,70.0 113.4,80.5" fill="none" stroke="#1e0a0a" stroke-width="2.6" stroke-linejoin="round" stroke-linecap="round"/>
<polyline points="109.5,109.0 112.0,112.5 112.0,120.0 114.0,124.5 120.0,125.0 123.5,127.0 123.5,133.0" fill="none" stroke="#1e0a0a" stroke-width="3.4" stroke-linejoin="round" stroke-linecap="round"/>
<polyline points="100.0,145.0 122.5,145.0" fill="none" stroke="#1e0a0a" stroke-width="1.5" stroke-linejoin="round" stroke-linecap="round"/>
<polyline points="142.5,157.5 146.0,152.0 148.5,146.0" fill="none" stroke="#1e0a0a" stroke-width="1.4" stroke-linejoin="round" stroke-linecap="round"/>
<polyline points="117.5,165.5 123.5,161.5" fill="none" stroke="#1e0a0a" stroke-width="1.4" stroke-linejoin="round" stroke-linecap="round"/>
<polygon points="111.0,95.5 115.5,95.5 116.0,100.0 111.5,100.0" fill="#1e0a0a"/>
<polyline points="163.5,137.0 170.0,136.5 176.0,136.0" fill="none" stroke="#1e0a0a" stroke-width="2.5" stroke-linejoin="round" stroke-linecap="round"/>
<polyline points="150.0,134.0 158.0,137.0 168.0,137.5" fill="none" stroke="#1e0a0a" stroke-width="1.5" stroke-linejoin="round" stroke-linecap="round"/>
<polygon points="241.0,242.0 247.0,242.0 247.5,249.0 257.5,249.5 257.5,268.0 254.0,276.0 249.4,282.0 247.5,290.0 246.0,301.6 244.0,312.0 241.0,322.6 238.0,329.0 235.7,322.6 233.6,312.0 232.5,301.6 233.6,291.0 241.0,287.0 241.0,274.0 240.0,265.0 240.5,255.0" fill="#1e0a0a"/>
<polyline points="252.0,262.0 247.0,281.0 244.0,300.0 241.0,318.0" fill="none" stroke="#ff8000" stroke-width="0.8" stroke-linejoin="round" stroke-linecap="round"/>
<polygon points="249.5,259.0 256.0,259.0 256.0,260.3 249.5,260.3" fill="#ffffff"/>
<polygon points="114.5,233.0 120.0,234.0 124.0,236.5 132.0,240.5 145.0,245.5 153.0,247.5 153.0,249.5 145.0,248.5 132.0,244.5 125.0,246.0 114.5,246.0" fill="#1e0a0a"/>
<polyline points="130.0,245.0 141.0,247.0 152.0,248.0 160.0,246.0 179.0,244.3" fill="none" stroke="#1e0a0a" stroke-width="1.5" stroke-linejoin="round" stroke-linecap="round"/>
<polyline points="59.4,20.2 70.4,20.2 70.4,29.5 83.0,29.5 83.0,45.5 65.3,45.5 65.3,38.8 60.2,32.9 59.4,32.9 59.4,20.2" fill="none" stroke="#0b6e0b" stroke-width="2.4" stroke-dasharray="1.9 1.5"/>
<polyline points="151.7,9.5 163.0,9.5 165.3,14.7 168.4,21.0 170.5,31.6 171.6,40.0 174.7,48.4 179.0,55.8 184.0,60.5 182.0,66.0 184.0,81.6 185.6,94.0 186.5,104.0 192.0,113.0 200.0,119.5 207.0,123.6 200.0,127.5 195.0,133.7" fill="none" stroke="#0b6e0b" stroke-width="2.4" stroke-dasharray="1.9 1.5"/>
<polyline points="151.7,9.5 151.6,12.6 152.6,19.0 155.8,25.3 159.0,31.6 161.0,40.0 161.5,50.0 162.0,56.5 147.0,56.5 147.0,61.0 155.3,65.3 163.7,70.3 173.8,73.7 180.5,83.8 182.2,94.0 184.0,104.0" fill="none" stroke="#0b6e0b" stroke-width="2.4" stroke-dasharray="1.9 1.5"/>
<polyline points="177.0,67.0 177.5,80.0 178.0,97.0" fill="none" stroke="#0b6e0b" stroke-width="2.4" stroke-dasharray="1.9 1.5"/>
<polyline points="152.6,75.0 161.0,77.4 165.3,79.5" fill="none" stroke="#0b6e0b" stroke-width="2.4" stroke-dasharray="1.9 1.5"/>
<polyline points="148.8,128.4 107.9,128.4 103.0,123.1 91.2,122.6 91.2,148.8 114.0,148.8 114.0,141.5 163.6,141.5 165.2,133.3" fill="none" stroke="#0b6e0b" stroke-width="2.4" stroke-dasharray="1.9 1.5"/>
<polyline points="203.6,183.0 207.4,187.0 221.2,202.7 221.2,209.6 217.2,216.4 217.2,227.2 228.0,231.2 239.8,238.0 247.7,244.0 248.0,250.0" fill="none" stroke="#0b6e0b" stroke-width="2.4" stroke-dasharray="1.9 1.5"/>
<polyline points="194.0,186.0 198.6,191.0 202.5,196.8 203.5,205.0 204.5,212.5 210.0,215.0 217.2,216.4" fill="none" stroke="#0b6e0b" stroke-width="2.4" stroke-dasharray="1.9 1.5"/>
<polyline points="179.6,216.0 179.6,289.0" fill="none" stroke="#0b6e0b" stroke-width="2.4" stroke-dasharray="1.9 1.5"/>
<polyline points="179.6,220.4 200.5,219.4 202.5,230.2 212.3,236.0 214.3,244.0 222.2,248.0" fill="none" stroke="#0b6e0b" stroke-width="2.4" stroke-dasharray="1.9 1.5"/>
<polyline points="190.7,237.5 212.3,237.5" fill="none" stroke="#0b6e0b" stroke-width="2.4" stroke-dasharray="1.9 1.5"/>
<polyline points="179.6,248.0 248.0,248.0" fill="none" stroke="#0b6e0b" stroke-width="2.4" stroke-dasharray="1.9 1.5"/>
<polyline points="153.6,249.3 179.7,249.3" fill="none" stroke="#0b6e0b" stroke-width="2.4" stroke-dasharray="1.9 1.5"/>
<polyline points="153.6,249.3 153.6,282.0 147.6,282.0 148.4,308.5 155.2,308.5 155.2,315.0 167.8,315.0 167.8,307.6 180.5,307.6 180.5,295.0 179.7,289.0" fill="none" stroke="#0b6e0b" stroke-width="2.4" stroke-dasharray="1.9 1.5"/>
<polyline points="149.0,126.7 165.2,126.7 165.2,133.3 149.0,133.3 149.0,126.7" fill="none" stroke="#1c5ed8" stroke-width="2.5" stroke-dasharray="2.6 0.35"/>
<polyline points="187.4,152.7 187.4,219.5" fill="none" stroke="#1c5ed8" stroke-width="2.5" stroke-dasharray="2.6 0.35"/>
<polyline points="189.8,152.7 189.8,219.5" fill="none" stroke="#1c5ed8" stroke-width="2.5" stroke-dasharray="2.6 0.35"/>
<polyline points="187.4,152.7 191.5,152.7 206.6,185.2 204.0,184.0 192.0,195.0" fill="none" stroke="#1c5ed8" stroke-width="2.5" stroke-dasharray="2.6 0.35"/>
<polygon points="418.5,70.5 422.5,71.5 428.2,82.5 435.0,89.5 439.5,90.5 442.4,98.4 449.7,108.4 454.7,115.2 458.0,117.5 463.0,123.0 469.0,121.8 475.6,122.5 475.6,126.8 467.0,127.5 465.0,130.2 453.0,130.2 447.2,125.3 445.5,122.0 444.6,116.8 441.3,108.4 435.4,100.0 429.4,91.5 423.7,82.5 418.5,73.0" fill="#1e0a0a"/>
<polygon points="430.5,124.0 447.0,123.5 447.0,127.0 430.5,127.0" fill="#1e0a0a"/>
<polygon points="453.0,128.0 464.3,128.0 464.3,158.0 455.5,158.0 454.5,150.0 453.5,140.0" fill="#1e0a0a"/>
<polygon points="464.0,154.0 457.0,156.0 449.0,158.0 440.0,161.0 432.0,165.0 423.0,168.5 417.0,170.0 407.0,172.5 397.0,175.5 392.0,176.5 392.0,181.0 407.0,179.0 417.0,177.0 429.0,175.0 437.0,172.0 445.0,168.5 455.0,164.5 464.0,162.0" fill="#1e0a0a"/>
<polygon points="391.6,144.5 395.0,144.5 395.0,173.7 391.6,173.7" fill="#1e0a0a"/>
<polyline points="359.5,93.5 360.5,99.5 363.0,101.0 372.0,101.5 381.0,100.8" fill="none" stroke="#1e0a0a" stroke-width="3" stroke-linejoin="round" stroke-linecap="round"/>
<polyline points="390.8,61.5 391.2,70.0 390.4,80.5" fill="none" stroke="#1e0a0a" stroke-width="2.6" stroke-linejoin="round" stroke-linecap="round"/>
<polyline points="386.5,109.0 389.0,112.5 389.0,120.0 391.0,124.5 397.0,125.0 400.5,127.0 400.5,133.0" fill="none" stroke="#1e0a0a" stroke-width="3.4" stroke-linejoin="round" stroke-linecap="round"/>
<polyline points="377.0,145.0 399.5,145.0" fill="none" stroke="#1e0a0a" stroke-width="1.5" stroke-linejoin="round" stroke-linecap="round"/>
<polyline points="419.5,157.5 423.0,152.0 425.5,146.0" fill="none" stroke="#1e0a0a" stroke-width="1.4" stroke-linejoin="round" stroke-linecap="round"/>
<polyline points="394.5,165.5 400.5,161.5" fill="none" stroke="#1e0a0a" stroke-width="1.4" stroke-linejoin="round" stroke-linecap="round"/>
<polygon points="388.0,95.5 392.5,95.5 393.0,100.0 388.5,100.0" fill="#1e0a0a"/>
<polyline points="440.5,137.0 447.0,136.5 453.0,136.0" fill="none" stroke="#1e0a0a" stroke-width="2.5" stroke-linejoin="round" stroke-linecap="round"/>
<polyline points="427.0,134.0 435.0,137.0 445.0,137.5" fill="none" stroke="#1e0a0a" stroke-width="1.5" stroke-linejoin="round" stroke-linecap="round"/>
<polygon points="518.0,242.0 524.0,242.0 524.5,249.0 534.5,249.5 534.5,268.0 531.0,276.0 526.4,282.0 524.5,290.0 523.0,301.6 521.0,312.0 518.0,322.6 515.0,329.0 512.7,322.6 510.6,312.0 509.5,301.6 510.6,291.0 518.0,287.0 518.0,274.0 517.0,265.0 517.5,255.0" fill="#1e0a0a"/>
<polyline points="529.0,262.0 524.0,281.0 521.0,300.0 518.0,318.0" fill="none" stroke="#ff8000" stroke-width="0.8" stroke-linejoin="round" stroke-linecap="round"/>
<polygon points="526.5,259.0 533.0,259.0 533.0,260.3 526.5,260.3" fill="#ffffff"/>
<polygon points="391.5,233.0 397.0,234.0 401.0,236.5 409.0,240.5 422.0,245.5 430.0,247.5 430.0,249.5 422.0,248.5 409.0,244.5 402.0,246.0 391.5,246.0" fill="#1e0a0a"/>
<polyline points="407.0,245.0 418.0,247.0 429.0,248.0 437.0,246.0 456.0,244.3" fill="none" stroke="#1e0a0a" stroke-width="1.5" stroke-linejoin="round" stroke-linecap="round"/>
<polyline points="336.4,20.2 347.4,20.2 347.4,29.5 360.0,29.5 360.0,45.5 342.3,45.5 342.3,38.8 337.2,32.9 336.4,32.9 336.4,20.2" fill="none" stroke="#0b6e0b" stroke-width="2.4" stroke-dasharray="1.9 1.5"/>
<polyline points="428.7,9.5 440.0,9.5 442.3,14.7 445.4,21.0 447.5,31.6 448.6,40.0 451.7,48.4 456.0,55.8 461.0,60.5 459.0,66.0 461.0,81.6 462.6,94.0 463.5,104.0 469.0,113.0 477.0,119.5 484.0,123.6 477.0,127.5 472.0,133.7" fill="none" stroke="#0b6e0b" stroke-width="2.4" stroke-dasharray="1.9 1.5"/>
<polyline points="428.7,9.5 428.6,12.6 429.6,19.0 432.8,25.3 436.0,31.6 438.0,40.0 438.5,50.0 439.0,56.5 424.0,56.5 424.0,61.0 432.3,65.3 440.7,70.3 450.8,73.7 457.5,83.8 459.2,94.0 461.0,104.0" fill="none" stroke="#0b6e0b" stroke-width="2.4" stroke-dasharray="1.9 1.5"/>
<polyline points="454.0,67.0 454.5,80.0 455.0,97.0" fill="none" stroke="#0b6e0b" stroke-width="2.4" stroke-dasharray="1.9 1.5"/>
<polyline points="429.6,75.0 438.0,77.4 442.3,79.5" fill="none" stroke="#0b6e0b" stroke-width="2.4" stroke-dasharray="1.9 1.5"/>
<polyline points="425.8,128.4 384.9,128.4 380.0,123.1 368.2,122.6 368.2,148.8 391.0,148.8 391.0,141.5 440.6,141.5 442.2,133.3" fill="none" stroke="#0b6e0b" stroke-width="2.4" stroke-dasharray="1.9 1.5"/>
<polyline points="480.6,183.0 484.4,187.0 498.2,202.7 498.2,209.6 494.2,216.4 494.2,227.2 505.0,231.2 516.8,238.0 524.7,244.0 525.0,250.0" fill="none" stroke="#0b6e0b" stroke-width="2.4" stroke-dasharray="1.9 1.5"/>
<polyline points="471.0,186.0 475.6,191.0 479.5,196.8 480.5,205.0 481.5,212.5 487.0,215.0 494.2,216.4" fill="none" stroke="#0b6e0b" stroke-width="2.4" stroke-dasharray="1.9 1.5"/>
<polyline points="456.6,216.0 456.6,289.0" fill="none" stroke="#0b6e0b" stroke-width="2.4" stroke-dasharray="1.9 1.5"/>
<polyline points="456.6,220.4 477.5,219.4 479.5,230.2 489.3,236.0 491.3,244.0 499.2,248.0" fill="none" stroke="#0b6e0b" stroke-width="2.4" stroke-dasharray="1.9 1.5"/>
<polyline points="467.7,237.5 489.3,237.5" fill="none" stroke="#0b6e0b" stroke-width="2.4" stroke-dasharray="1.9 1.5"/>
<polyline points="456.6,248.0 525.0,248.0" fill="none" stroke="#0b6e0b" stroke-width="2.4" stroke-dasharray="1.9 1.5"/>
<polyline points="430.6,249.3 456.7,249.3" fill="none" stroke="#0b6e0b" stroke-width="2.4" stroke-dasharray="1.9 1.5"/>
<polyline points="430.6,249.3 430.6,282.0 424.6,282.0 425.4,308.5 432.2,308.5 432.2,315.0 444.8,315.0 444.8,307.6 457.5,307.6 457.5,295.0 456.7,289.0" fill="none" stroke="#0b6e0b" stroke-width="2.4" stroke-dasharray="1.9 1.5"/>
<polyline points="426.0,126.7 442.2,126.7 442.2,133.3 426.0,133.3 426.0,126.7" fill="none" stroke="#1c5ed8" stroke-width="2.5" stroke-dasharray="2.6 0.35"/>
<polyline points="464.4,152.7 464.4,219.5" fill="none" stroke="#1c5ed8" stroke-width="2.5" stroke-dasharray="2.6 0.35"/>
<polyline points="466.8,152.7 466.8,219.5" fill="none" stroke="#1c5ed8" stroke-width="2.5" stroke-dasharray="2.6 0.35"/>
<polyline points="464.4,152.7 468.5,152.7 483.6,185.2 481.0,184.0 469.0,195.0" fill="none" stroke="#1c5ed8" stroke-width="2.5" stroke-dasharray="2.6 0.35"/>
</g>
<text x="6.6" y="164.9" font-family="Liberation Sans, Arial, sans-serif" font-weight="bold" font-size="11.8" fill="#000">Legend</text>
<text x="6.6" y="181.3" font-family="Liberation Sans, Arial, sans-serif" font-weight="bold" font-size="8.1" fill="#000">Community Settlement</text>
<rect x="6.4" y="185.8" width="24.1" height="11.8" fill="#222"/>
<text x="32.8" y="194.5" font-family="Liberation Sans, Arial, sans-serif" font-size="7.3" fill="#000">Industrial Areas</text>
<text x="6.5" y="210.7" font-family="Liberation Sans, Arial, sans-serif" font-weight="bold" font-size="7.9" fill="#000">Neighborhood</text>
<rect x="5.4" y="215.3" width="24.7" height="11.9" fill="none" stroke="#0b6e0b" stroke-width="1.9" stroke-dasharray="1.3 2.3"/>
<text x="33.4" y="224.2" font-family="Liberation Sans, Arial, sans-serif" font-size="7.4" fill="#000">US-born White</text>
<rect x="6" y="231.1" width="24" height="11.2" fill="none" stroke="#1a62e0" stroke-width="2.8" stroke-dasharray="0.8 0.55"/>
<text x="32.7" y="239.6" font-family="Liberation Sans, Arial, sans-serif" font-size="7.2" fill="#000">Black</text>
<text x="6.6" y="257.0" font-family="Liberation Sans, Arial, sans-serif" font-weight="bold" font-size="8.9" fill="#000">Influenza</text>
<text x="6.6" y="269.9" font-family="Liberation Sans, Arial, sans-serif" font-weight="bold" font-size="8.0" fill="#000">Mortality Rate (per 100K)</text>
<rect x="6.5" y="274.3" width="24" height="11.6" fill="#f6f600"/>
<text x="31.5" y="282.7" font-family="Liberation Sans, Arial, sans-serif" font-size="7.2" fill="#000">[Q1] 0.00 – 106.67</text>
<rect x="6.5" y="289.8" width="24" height="11.6" fill="#ffb900"/>
<text x="31.5" y="298.2" font-family="Liberation Sans, Arial, sans-serif" font-size="7.2" fill="#000">[Q2] 106.68 – 155.04</text>
<rect x="6.5" y="305.6" width="24" height="11.6" fill="#ff8000"/>
<text x="31.5" y="314.0" font-family="Liberation Sans, Arial, sans-serif" font-size="7.2" fill="#000">[Q3] 155.05 – 204.96</text>
<rect x="6.5" y="321.4" width="24" height="11.6" fill="#ff4000"/>
<text x="31.5" y="329.79999999999995" font-family="Liberation Sans, Arial, sans-serif" font-size="7.2" fill="#000">[Q4] 204.97 – 295.63</text>
<rect x="6.5" y="337.1" width="24" height="11.6" fill="#ff0000"/>
<text x="31.5" y="345.5" font-family="Liberation Sans, Arial, sans-serif" font-size="7.2" fill="#000">[Q5] 295.64 – 1250.00</text>
<text x="283.6" y="165.9" font-family="Liberation Sans, Arial, sans-serif" font-weight="bold" font-size="11.8" fill="#000">Legend</text>
<text x="283.6" y="182.3" font-family="Liberation Sans, Arial, sans-serif" font-weight="bold" font-size="8.1" fill="#000">Community Settlement</text>
<rect x="283.4" y="186.8" width="24.1" height="11.8" fill="#222"/>
<text x="309.8" y="195.5" font-family="Liberation Sans, Arial, sans-serif" font-size="7.3" fill="#000">Industrial Areas</text>
<text x="283.5" y="211.7" font-family="Liberation Sans, Arial, sans-serif" font-weight="bold" font-size="7.9" fill="#000">Neighborhood</text>
<rect x="282.4" y="216.3" width="24.7" height="11.9" fill="none" stroke="#0b6e0b" stroke-width="1.9" stroke-dasharray="1.3 2.3"/>
<text x="310.4" y="225.2" font-family="Liberation Sans, Arial, sans-serif" font-size="7.4" fill="#000">Native White</text>
<rect x="283" y="232.1" width="24" height="11.2" fill="none" stroke="#1a62e0" stroke-width="2.8" stroke-dasharray="0.8 0.55"/>
<text x="309.7" y="240.6" font-family="Liberation Sans, Arial, sans-serif" font-size="7.2" fill="#000">Black</text>
<text x="283.6" y="257.0" font-family="Liberation Sans, Arial, sans-serif" font-weight="bold" font-size="8.0" fill="#000">Pneumonia</text>
<text x="283.6" y="269.9" font-family="Liberation Sans, Arial, sans-serif" font-weight="bold" font-size="8.0" fill="#000">Mortality Rate (per 100K)</text>
<rect x="283.5" y="274.3" width="24" height="11.6" fill="#f6f600"/>
<text x="308.5" y="282.7" font-family="Liberation Sans, Arial, sans-serif" font-size="7.2" fill="#000">[Q1] 0.00 – 52.97</text>
<rect x="283.5" y="289.8" width="24" height="11.6" fill="#ffb900"/>
<text x="308.5" y="298.2" font-family="Liberation Sans, Arial, sans-serif" font-size="7.2" fill="#000">[Q2] 52.98 – 83.06</text>
<rect x="283.5" y="305.6" width="24" height="11.6" fill="#ff8000"/>
<text x="308.5" y="314.0" font-family="Liberation Sans, Arial, sans-serif" font-size="7.2" fill="#000">[Q3] 83.07 – 117.74</text>
<rect x="283.5" y="321.4" width="24" height="11.6" fill="#ff4000"/>
<text x="308.5" y="329.79999999999995" font-family="Liberation Sans, Arial, sans-serif" font-size="7.2" fill="#000">[Q4] 117.75 – 183.45</text>
<rect x="283.5" y="337.1" width="24" height="11.6" fill="#ff0000"/>
<text x="308.5" y="345.5" font-family="Liberation Sans, Arial, sans-serif" font-size="7.2" fill="#000">[Q5] 183.46 – 1072.39</text>
<polygon points="244.4,24.499999999999996 247.20000000000002,38.0 244.4,40.8" fill="#000"/>
<polygon points="260.9,40.8 247.20000000000002,43.599999999999994 244.4,40.8" fill="#000"/>
<polygon points="244.4,57.599999999999994 241.6,43.599999999999994 244.4,40.8" fill="#000"/>
<polygon points="228.3,40.8 241.6,38.0 244.4,40.8" fill="#000"/>
<polygon points="244.4,24.499999999999996 241.6,38.0 244.4,40.8" fill="#fff" stroke="#555" stroke-width="0.4"/>
<polygon points="260.9,40.8 247.20000000000002,38.0 244.4,40.8" fill="#fff" stroke="#555" stroke-width="0.4"/>
<polygon points="244.4,57.599999999999994 247.20000000000002,43.599999999999994 244.4,40.8" fill="#fff" stroke="#555" stroke-width="0.4"/>
<polygon points="228.3,40.8 241.6,43.599999999999994 244.4,40.8" fill="#fff" stroke="#555" stroke-width="0.4"/>
<text x="244.4" y="22.199999999999996" font-family="Liberation Serif, serif" font-size="7.5" text-anchor="middle" fill="#000">N</text>
<polygon points="520.9,24.7 523.6999999999999,38.2 520.9,41" fill="#000"/>
<polygon points="537.4,41 523.6999999999999,43.8 520.9,41" fill="#000"/>
<polygon points="520.9,57.8 518.1,43.8 520.9,41" fill="#000"/>
<polygon points="504.79999999999995,41 518.1,38.2 520.9,41" fill="#000"/>
<polygon points="520.9,24.7 518.1,38.2 520.9,41" fill="#fff" stroke="#555" stroke-width="0.4"/>
<polygon points="537.4,41 523.6999999999999,38.2 520.9,41" fill="#fff" stroke="#555" stroke-width="0.4"/>
<polygon points="520.9,57.8 523.6999999999999,43.8 520.9,41" fill="#fff" stroke="#555" stroke-width="0.4"/>
<polygon points="504.79999999999995,41 518.1,43.8 520.9,41" fill="#fff" stroke="#555" stroke-width="0.4"/>
<text x="520.9" y="22.4" font-family="Liberation Serif, serif" font-size="7.5" text-anchor="middle" fill="#000">N</text>
</svg>
</body></html>
